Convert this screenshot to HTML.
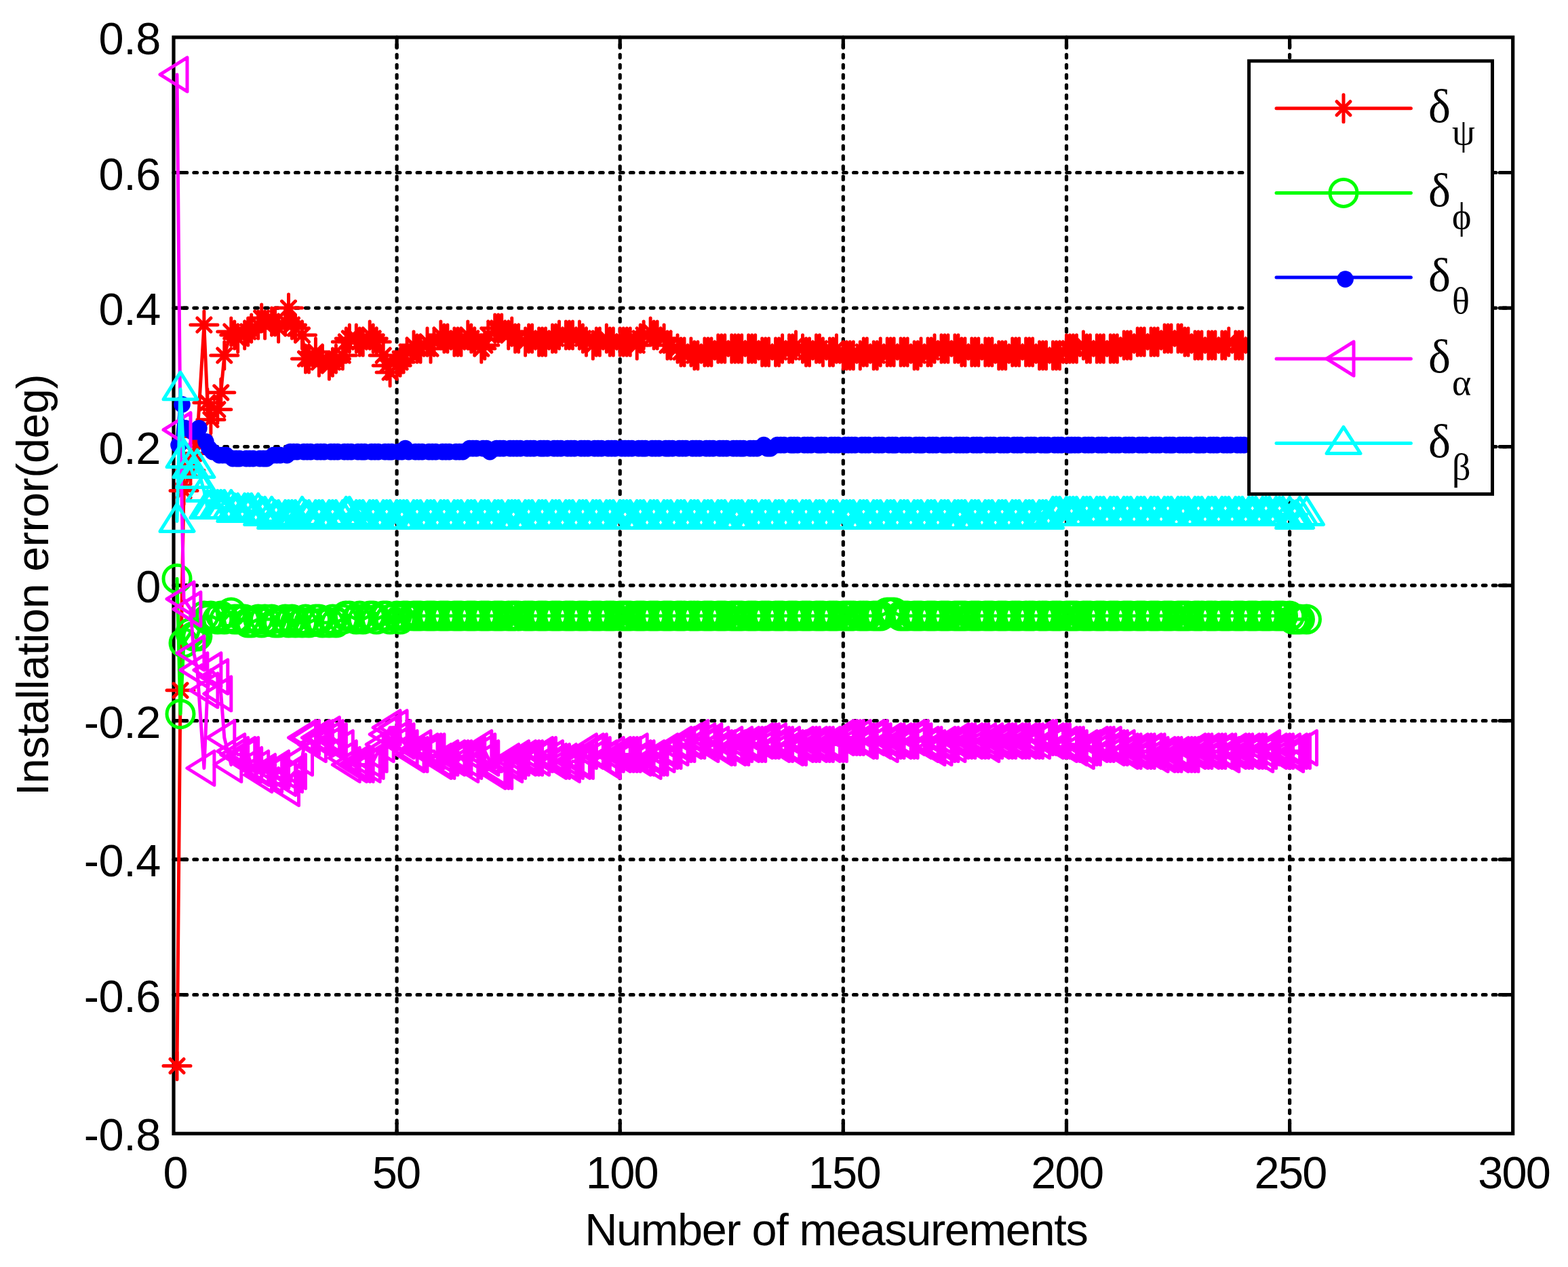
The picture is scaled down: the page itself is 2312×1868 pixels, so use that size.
<!DOCTYPE html>
<html lang="en">
<head>
<meta charset="utf-8">
<title>Installation error vs number of measurements</title>
<style>
html,body{margin:0;padding:0;background:#fff;}
body{width:2312px;height:1868px;overflow:hidden;}
svg{display:block;}
text{font-family:"Liberation Sans",sans-serif;fill:#000;}
.tick{font-size:66.67px;}
.xt{letter-spacing:-1.7px;}
.yt{letter-spacing:-0.4px;}
.lab{font-size:66.67px;}
.leg{font-family:"Liberation Serif",serif;font-size:70px;}
.sub{font-family:"Liberation Serif",serif;font-size:54px;}
.grid line{stroke:#000;stroke-width:5.2;stroke-dasharray:4.6 10.364;stroke-linecap:round;}
.frame{fill:none;stroke:#000;stroke-width:5.2;stroke-linejoin:miter;}
.tk line{stroke:#000;stroke-width:5.2;stroke-linecap:round;}
.s{fill:none;stroke-width:6;stroke-linejoin:round;stroke-linecap:round;}
</style>
</head>
<body>
<svg width="2312" height="1868" viewBox="0 0 2312 1868">
<rect x="0" y="0" width="2312" height="1868" fill="#fff"/>

<g class="grid">
<line x1="585.1" y1="1671.3" x2="585.1" y2="55.0"/>
<line x1="914.2" y1="1671.3" x2="914.2" y2="55.0"/>
<line x1="1243.3" y1="1671.3" x2="1243.3" y2="55.0"/>
<line x1="1572.5" y1="1671.3" x2="1572.5" y2="55.0"/>
<line x1="1901.6" y1="1671.3" x2="1901.6" y2="55.0"/>
<line x1="256.0" y1="1466.7" x2="2230.7" y2="1466.7"/>
<line x1="256.0" y1="1267.2" x2="2230.7" y2="1267.2"/>
<line x1="256.0" y1="1062.7" x2="2230.7" y2="1062.7"/>
<line x1="256.0" y1="863.1" x2="2230.7" y2="863.1"/>
<line x1="256.0" y1="658.6" x2="2230.7" y2="658.6"/>
<line x1="256.0" y1="454.1" x2="2230.7" y2="454.1"/>
<line x1="256.0" y1="254.5" x2="2230.7" y2="254.5"/>
</g>
<g class="tk">
<line x1="585.1" y1="1670.3" x2="585.1" y2="1656.3"/>
<line x1="585.1" y1="56.0" x2="585.1" y2="70.0"/>
<line x1="914.2" y1="1670.3" x2="914.2" y2="1656.3"/>
<line x1="914.2" y1="56.0" x2="914.2" y2="70.0"/>
<line x1="1243.3" y1="1670.3" x2="1243.3" y2="1656.3"/>
<line x1="1243.3" y1="56.0" x2="1243.3" y2="70.0"/>
<line x1="1572.5" y1="1670.3" x2="1572.5" y2="1656.3"/>
<line x1="1572.5" y1="56.0" x2="1572.5" y2="70.0"/>
<line x1="1901.6" y1="1670.3" x2="1901.6" y2="1656.3"/>
<line x1="1901.6" y1="56.0" x2="1901.6" y2="70.0"/>
<line x1="257.0" y1="1466.7" x2="275.5" y2="1466.7"/>
<line x1="2229.7" y1="1466.7" x2="2211.2" y2="1466.7"/>
<line x1="257.0" y1="1267.2" x2="275.5" y2="1267.2"/>
<line x1="2229.7" y1="1267.2" x2="2211.2" y2="1267.2"/>
<line x1="257.0" y1="1062.7" x2="275.5" y2="1062.7"/>
<line x1="2229.7" y1="1062.7" x2="2211.2" y2="1062.7"/>
<line x1="257.0" y1="863.1" x2="275.5" y2="863.1"/>
<line x1="2229.7" y1="863.1" x2="2211.2" y2="863.1"/>
<line x1="257.0" y1="658.6" x2="275.5" y2="658.6"/>
<line x1="2229.7" y1="658.6" x2="2211.2" y2="658.6"/>
<line x1="257.0" y1="454.1" x2="275.5" y2="454.1"/>
<line x1="2229.7" y1="454.1" x2="2211.2" y2="454.1"/>
<line x1="257.0" y1="254.5" x2="275.5" y2="254.5"/>
<line x1="2229.7" y1="254.5" x2="2211.2" y2="254.5"/>
</g>
<rect class="frame" x="256.0" y="55.0" width="1974.6936" height="1616.2740000000001"/>
<g class="tick">
<text x="258.2" y="1752" class="xt" text-anchor="middle">0</text>
<text x="584.1" y="1752" class="xt" text-anchor="middle">50</text>
<text x="916.9" y="1752" class="xt" text-anchor="middle">100</text>
<text x="1244.8" y="1752" class="xt" text-anchor="middle">150</text>
<text x="1573.3" y="1752" class="xt" text-anchor="middle">200</text>
<text x="1902.6" y="1752" class="xt" text-anchor="middle">250</text>
<text x="2232.2" y="1752" class="xt" text-anchor="middle">300</text>
<text x="237" y="80.0" class="yt" text-anchor="end">0.8</text>
<text x="237" y="279.5" class="yt" text-anchor="end">0.6</text>
<text x="237" y="479.1" class="yt" text-anchor="end">0.4</text>
<text x="237" y="683.6" class="yt" text-anchor="end">0.2</text>
<text x="237" y="888.1" class="yt" text-anchor="end">0</text>
<text x="237" y="1087.7" class="yt" text-anchor="end">-0.2</text>
<text x="237" y="1292.2" class="yt" text-anchor="end">-0.4</text>
<text x="237" y="1491.7" class="yt" text-anchor="end">-0.6</text>
<text x="237" y="1696.3" class="yt" text-anchor="end">-0.8</text>
</g>
<text class="lab" x="1233.5" y="1836" text-anchor="middle" textLength="742.6" lengthAdjust="spacing">Number of measurements</text>
<text class="lab" transform="translate(70.5 862.2) rotate(-90)" text-anchor="middle" textLength="622" lengthAdjust="spacing">Installation error(deg)</text>
<g fill="none" stroke-width="5" stroke-linecap="round" stroke-linejoin="round">
<g stroke="#f00">
<path d="M261 1571.5 L266 1017.8 L271 723.5 L280.9 693.5 L285.9 668.6 L290.9 643.6 L300.9 479 L305.9 593.8 L310.9 618.7 L320.8 603.7 L325.8 578.8 L330.8 523.9 L340.8 489 L345.8 494 L350.7 499 L360.7 494 L365.7 489 L370.7 484 L380.7 479 L385.7 469 L390.6 479 L400.6 474 L405.6 474 L410.6 484 L420.6 474 L425.5 454.1 L430.5 479 L435.5 484 L445.5 494 L450.5 528.9 L455.5 528.9 L465.4 518.9 L470.4 533.9 L475.4 528.9 L485.4 538.9 L490.4 533.9 L495.4 528.9 L505.3 523.9 L510.3 504 L515.3 499 L525.3 499 L530.3 504 L535.2 504 L545.2 494 L550.2 499 L555.2 504 L565.2 523.9 L570.2 538.9 L575.1 548.9 L585.1 538.9 L590.1 533.9 L595.1 528.9 L600.1 518.9 L610 509 L615 513.9 L620 513.9 L630 504 L635 513.9 L640 504 L649.9 494 L654.9 499 L659.9 499 L669.9 504 L674.9 504 L679.9 504 L689.8 494 L694.8 499 L699.8 504 L709.8 513.9 L714.8 509 L719.8 494 L729.7 484 L734.7 484 L739.7 484 L749.7 494 L754.7 489 L759.6 499 L764.6 499 L774.6 504 L779.6 499 L784.6 499 L794.6 504 L799.5 504 L804.5 504 L814.5 499 L819.5 499 L824.5 494 L834.4 494 L839.4 494 L844.4 494 L854.4 494 L859.4 499 L864.4 504 L874.3 509 L879.3 504 L884.3 504 L894.3 499 L899.3 504 L904.3 504 L914.2 504 L919.2 504 L924.2 504 L929.2 504 L939.2 509 L944.2 499 L949.1 494 L959.1 489 L964.1 494 L969.1 494 L979.1 499 L984 509 L989 509 L999 513.9 L1004 518.9 L1009 518.9 L1018.9 518.9 L1023.9 523.9 L1028.9 523.9 L1038.9 518.9 L1043.9 518.9 L1048.9 518.9 L1058.8 513.9 L1063.8 513.9 L1068.8 513.9 L1078.8 513.9 L1083.8 513.9 L1088.8 513.9 L1093.7 513.9 L1103.7 513.9 L1108.7 513.9 L1113.7 513.9 L1123.7 518.9 L1128.7 518.9 L1133.6 518.9 L1143.6 518.9 L1148.6 518.9 L1153.6 513.9 L1163.6 513.9 L1168.5 513.9 L1173.5 509 L1183.5 513.9 L1188.5 518.9 L1193.5 518.9 L1203.5 513.9 L1208.4 513.9 L1213.4 518.9 L1223.4 518.9 L1228.4 518.9 L1233.4 513.9 L1243.3 523.9 L1248.3 523.9 L1253.3 523.9 L1258.3 523.9 L1268.3 523.9 L1273.3 518.9 L1278.3 518.9 L1288.2 523.9 L1293.2 523.9 L1298.2 518.9 L1308.2 518.9 L1313.2 518.9 L1318.1 518.9 L1328.1 518.9 L1333.1 518.9 L1338.1 518.9 L1348.1 523.9 L1353.1 523.9 L1358 518.9 L1368 518.9 L1373 518.9 L1378 513.9 L1388 513.9 L1392.9 513.9 L1397.9 513.9 L1407.9 513.9 L1412.9 513.9 L1417.9 518.9 L1422.9 518.9 L1432.8 518.9 L1437.8 518.9 L1442.8 518.9 L1452.8 518.9 L1457.8 518.9 L1462.8 518.9 L1472.7 523.9 L1477.7 523.9 L1482.7 523.9 L1492.7 518.9 L1497.7 518.9 L1502.7 518.9 L1512.6 518.9 L1517.6 518.9 L1522.6 518.9 L1532.6 523.9 L1537.6 523.9 L1542.5 523.9 L1552.5 523.9 L1557.5 523.9 L1562.5 523.9 L1572.5 513.9 L1577.4 513.9 L1582.4 513.9 L1587.4 513.9 L1597.4 509 L1602.4 513.9 L1607.4 513.9 L1617.3 513.9 L1622.3 513.9 L1627.3 513.9 L1637.3 513.9 L1642.3 513.9 L1647.3 513.9 L1657.2 509 L1662.2 509 L1667.2 509 L1677.2 504 L1682.2 504 L1687.2 504 L1697.1 504 L1702.1 504 L1707.1 504 L1717.1 499 L1722.1 499 L1727 499 L1737 499 L1742 499 L1747 504 L1752 504 L1762 509 L1766.9 509 L1771.9 509 L1781.9 509 L1786.9 509 L1791.9 509 L1801.8 509 L1806.8 509 L1811.8 504 L1821.8 509 L1826.8 509 L1831.8 509 L1841.7 509 L1846.7 509 L1851.7 509 L1861.7 509 L1866.7 509 L1871.7 509 L1881.6 509 L1886.6 509 L1891.6 509 L1901.6 509 L1906.6 509 L1911.6 509 L1916.5 509 L1926.5 509"/>
<path d="M241 1571.5h40M261 1551.5v40M251 1561.5l20 20M251 1581.5l20 -20M246 1017.8h40M266 997.8v40M256 1007.8l20 20M256 1027.8l20 -20M251 723.5h40M271 703.5v40M261 713.5l20 20M261 733.5l20 -20M260.9 693.5h40M280.9 673.5v40M270.9 683.5l20 20M270.9 703.5l20 -20M265.9 668.6h40M285.9 648.6v40M275.9 658.6l20 20M275.9 678.6l20 -20M270.9 643.6h40M290.9 623.6v40M280.9 633.6l20 20M280.9 653.6l20 -20M280.9 479h40M300.9 459v40M290.9 469l20 20M290.9 489l20 -20M285.9 593.8h40M305.9 573.8v40M295.9 583.8l20 20M295.9 603.8l20 -20M290.9 618.7h40M310.9 598.7v40M300.9 608.7l20 20M300.9 628.7l20 -20M300.8 603.7h40M320.8 583.7v40M310.8 593.7l20 20M310.8 613.7l20 -20M305.8 578.8h40M325.8 558.8v40M315.8 568.8l20 20M315.8 588.8l20 -20M310.8 523.9h40M330.8 503.9v40M320.8 513.9l20 20M320.8 533.9l20 -20M320.8 489h40M340.8 469v40M330.8 479l20 20M330.8 499l20 -20M325.8 494h40M345.8 474v40M335.8 484l20 20M335.8 504l20 -20M330.7 499h40M350.7 479v40M340.7 489l20 20M340.7 509l20 -20M340.7 494h40M360.7 474v40M350.7 484l20 20M350.7 504l20 -20M345.7 489h40M365.7 469v40M355.7 479l20 20M355.7 499l20 -20M350.7 484h40M370.7 464v40M360.7 474l20 20M360.7 494l20 -20M360.7 479h40M380.7 459v40M370.7 469l20 20M370.7 489l20 -20M365.7 469h40M385.7 449v40M375.7 459l20 20M375.7 479l20 -20M370.6 479h40M390.6 459v40M380.6 469l20 20M380.6 489l20 -20M380.6 474h40M400.6 454v40M390.6 464l20 20M390.6 484l20 -20M385.6 474h40M405.6 454v40M395.6 464l20 20M395.6 484l20 -20M390.6 484h40M410.6 464v40M400.6 474l20 20M400.6 494l20 -20M400.6 474h40M420.6 454v40M410.6 464l20 20M410.6 484l20 -20M405.5 454.1h40M425.5 434.1v40M415.5 444.1l20 20M415.5 464.1l20 -20M410.5 479h40M430.5 459v40M420.5 469l20 20M420.5 489l20 -20M415.5 484h40M435.5 464v40M425.5 474l20 20M425.5 494l20 -20M425.5 494h40M445.5 474v40M435.5 484l20 20M435.5 504l20 -20M430.5 528.9h40M450.5 508.9v40M440.5 518.9l20 20M440.5 538.9l20 -20M435.5 528.9h40M455.5 508.9v40M445.5 518.9l20 20M445.5 538.9l20 -20M445.4 518.9h40M465.4 498.9v40M455.4 508.9l20 20M455.4 528.9l20 -20M450.4 533.9h40M470.4 513.9v40M460.4 523.9l20 20M460.4 543.9l20 -20M455.4 528.9h40M475.4 508.9v40M465.4 518.9l20 20M465.4 538.9l20 -20M465.4 538.9h40M485.4 518.9v40M475.4 528.9l20 20M475.4 548.9l20 -20M470.4 533.9h40M490.4 513.9v40M480.4 523.9l20 20M480.4 543.9l20 -20M475.4 528.9h40M495.4 508.9v40M485.4 518.9l20 20M485.4 538.9l20 -20M485.3 523.9h40M505.3 503.9v40M495.3 513.9l20 20M495.3 533.9l20 -20M490.3 504h40M510.3 484v40M500.3 494l20 20M500.3 514l20 -20M495.3 499h40M515.3 479v40M505.3 489l20 20M505.3 509l20 -20M505.3 499h40M525.3 479v40M515.3 489l20 20M515.3 509l20 -20M510.3 504h40M530.3 484v40M520.3 494l20 20M520.3 514l20 -20M515.2 504h40M535.2 484v40M525.2 494l20 20M525.2 514l20 -20M525.2 494h40M545.2 474v40M535.2 484l20 20M535.2 504l20 -20M530.2 499h40M550.2 479v40M540.2 489l20 20M540.2 509l20 -20M535.2 504h40M555.2 484v40M545.2 494l20 20M545.2 514l20 -20M545.2 523.9h40M565.2 503.9v40M555.2 513.9l20 20M555.2 533.9l20 -20M550.2 538.9h40M570.2 518.9v40M560.2 528.9l20 20M560.2 548.9l20 -20M555.1 548.9h40M575.1 528.9v40M565.1 538.9l20 20M565.1 558.9l20 -20M565.1 538.9h40M585.1 518.9v40M575.1 528.9l20 20M575.1 548.9l20 -20M570.1 533.9h40M590.1 513.9v40M580.1 523.9l20 20M580.1 543.9l20 -20M575.1 528.9h40M595.1 508.9v40M585.1 518.9l20 20M585.1 538.9l20 -20M580.1 518.9h40M600.1 498.9v40M590.1 508.9l20 20M590.1 528.9l20 -20M590 509h40M610 489v40M600 499l20 20M600 519l20 -20M595 513.9h40M615 493.9v40M605 503.9l20 20M605 523.9l20 -20M600 513.9h40M620 493.9v40M610 503.9l20 20M610 523.9l20 -20M610 504h40M630 484v40M620 494l20 20M620 514l20 -20M615 513.9h40M635 493.9v40M625 503.9l20 20M625 523.9l20 -20M620 504h40M640 484v40M630 494l20 20M630 514l20 -20M629.9 494h40M649.9 474v40M639.9 484l20 20M639.9 504l20 -20M634.9 499h40M654.9 479v40M644.9 489l20 20M644.9 509l20 -20M639.9 499h40M659.9 479v40M649.9 489l20 20M649.9 509l20 -20M649.9 504h40M669.9 484v40M659.9 494l20 20M659.9 514l20 -20M654.9 504h40M674.9 484v40M664.9 494l20 20M664.9 514l20 -20M659.9 504h40M679.9 484v40M669.9 494l20 20M669.9 514l20 -20M669.8 494h40M689.8 474v40M679.8 484l20 20M679.8 504l20 -20M674.8 499h40M694.8 479v40M684.8 489l20 20M684.8 509l20 -20M679.8 504h40M699.8 484v40M689.8 494l20 20M689.8 514l20 -20M689.8 513.9h40M709.8 493.9v40M699.8 503.9l20 20M699.8 523.9l20 -20M694.8 509h40M714.8 489v40M704.8 499l20 20M704.8 519l20 -20M699.8 494h40M719.8 474v40M709.8 484l20 20M709.8 504l20 -20M709.7 484h40M729.7 464v40M719.7 474l20 20M719.7 494l20 -20M714.7 484h40M734.7 464v40M724.7 474l20 20M724.7 494l20 -20M719.7 484h40M739.7 464v40M729.7 474l20 20M729.7 494l20 -20M729.7 494h40M749.7 474v40M739.7 484l20 20M739.7 504l20 -20M734.7 489h40M754.7 469v40M744.7 479l20 20M744.7 499l20 -20M739.6 499h40M759.6 479v40M749.6 489l20 20M749.6 509l20 -20M744.6 499h40M764.6 479v40M754.6 489l20 20M754.6 509l20 -20M754.6 504h40M774.6 484v40M764.6 494l20 20M764.6 514l20 -20M759.6 499h40M779.6 479v40M769.6 489l20 20M769.6 509l20 -20M764.6 499h40M784.6 479v40M774.6 489l20 20M774.6 509l20 -20M774.6 504h40M794.6 484v40M784.6 494l20 20M784.6 514l20 -20M779.5 504h40M799.5 484v40M789.5 494l20 20M789.5 514l20 -20M784.5 504h40M804.5 484v40M794.5 494l20 20M794.5 514l20 -20M794.5 499h40M814.5 479v40M804.5 489l20 20M804.5 509l20 -20M799.5 499h40M819.5 479v40M809.5 489l20 20M809.5 509l20 -20M804.5 494h40M824.5 474v40M814.5 484l20 20M814.5 504l20 -20M814.4 494h40M834.4 474v40M824.4 484l20 20M824.4 504l20 -20M819.4 494h40M839.4 474v40M829.4 484l20 20M829.4 504l20 -20M824.4 494h40M844.4 474v40M834.4 484l20 20M834.4 504l20 -20M834.4 494h40M854.4 474v40M844.4 484l20 20M844.4 504l20 -20M839.4 499h40M859.4 479v40M849.4 489l20 20M849.4 509l20 -20M844.4 504h40M864.4 484v40M854.4 494l20 20M854.4 514l20 -20M854.3 509h40M874.3 489v40M864.3 499l20 20M864.3 519l20 -20M859.3 504h40M879.3 484v40M869.3 494l20 20M869.3 514l20 -20M864.3 504h40M884.3 484v40M874.3 494l20 20M874.3 514l20 -20M874.3 499h40M894.3 479v40M884.3 489l20 20M884.3 509l20 -20M879.3 504h40M899.3 484v40M889.3 494l20 20M889.3 514l20 -20M884.3 504h40M904.3 484v40M894.3 494l20 20M894.3 514l20 -20M894.2 504h40M914.2 484v40M904.2 494l20 20M904.2 514l20 -20M899.2 504h40M919.2 484v40M909.2 494l20 20M909.2 514l20 -20M904.2 504h40M924.2 484v40M914.2 494l20 20M914.2 514l20 -20M909.2 504h40M929.2 484v40M919.2 494l20 20M919.2 514l20 -20M919.2 509h40M939.2 489v40M929.2 499l20 20M929.2 519l20 -20M924.2 499h40M944.2 479v40M934.2 489l20 20M934.2 509l20 -20M929.1 494h40M949.1 474v40M939.1 484l20 20M939.1 504l20 -20M939.1 489h40M959.1 469v40M949.1 479l20 20M949.1 499l20 -20M944.1 494h40M964.1 474v40M954.1 484l20 20M954.1 504l20 -20M949.1 494h40M969.1 474v40M959.1 484l20 20M959.1 504l20 -20M959.1 499h40M979.1 479v40M969.1 489l20 20M969.1 509l20 -20M964 509h40M984 489v40M974 499l20 20M974 519l20 -20M969 509h40M989 489v40M979 499l20 20M979 519l20 -20M979 513.9h40M999 493.9v40M989 503.9l20 20M989 523.9l20 -20M984 518.9h40M1004 498.9v40M994 508.9l20 20M994 528.9l20 -20M989 518.9h40M1009 498.9v40M999 508.9l20 20M999 528.9l20 -20M998.9 518.9h40M1018.9 498.9v40M1008.9 508.9l20 20M1008.9 528.9l20 -20M1003.9 523.9h40M1023.9 503.9v40M1013.9 513.9l20 20M1013.9 533.9l20 -20M1008.9 523.9h40M1028.9 503.9v40M1018.9 513.9l20 20M1018.9 533.9l20 -20M1018.9 518.9h40M1038.9 498.9v40M1028.9 508.9l20 20M1028.9 528.9l20 -20M1023.9 518.9h40M1043.9 498.9v40M1033.9 508.9l20 20M1033.9 528.9l20 -20M1028.9 518.9h40M1048.9 498.9v40M1038.9 508.9l20 20M1038.9 528.9l20 -20M1038.8 513.9h40M1058.8 493.9v40M1048.8 503.9l20 20M1048.8 523.9l20 -20M1043.8 513.9h40M1063.8 493.9v40M1053.8 503.9l20 20M1053.8 523.9l20 -20M1048.8 513.9h40M1068.8 493.9v40M1058.8 503.9l20 20M1058.8 523.9l20 -20M1058.8 513.9h40M1078.8 493.9v40M1068.8 503.9l20 20M1068.8 523.9l20 -20M1063.8 513.9h40M1083.8 493.9v40M1073.8 503.9l20 20M1073.8 523.9l20 -20M1068.8 513.9h40M1088.8 493.9v40M1078.8 503.9l20 20M1078.8 523.9l20 -20M1073.7 513.9h40M1093.7 493.9v40M1083.7 503.9l20 20M1083.7 523.9l20 -20M1083.7 513.9h40M1103.7 493.9v40M1093.7 503.9l20 20M1093.7 523.9l20 -20M1088.7 513.9h40M1108.7 493.9v40M1098.7 503.9l20 20M1098.7 523.9l20 -20M1093.7 513.9h40M1113.7 493.9v40M1103.7 503.9l20 20M1103.7 523.9l20 -20M1103.7 518.9h40M1123.7 498.9v40M1113.7 508.9l20 20M1113.7 528.9l20 -20M1108.7 518.9h40M1128.7 498.9v40M1118.7 508.9l20 20M1118.7 528.9l20 -20M1113.6 518.9h40M1133.6 498.9v40M1123.6 508.9l20 20M1123.6 528.9l20 -20M1123.6 518.9h40M1143.6 498.9v40M1133.6 508.9l20 20M1133.6 528.9l20 -20M1128.6 518.9h40M1148.6 498.9v40M1138.6 508.9l20 20M1138.6 528.9l20 -20M1133.6 513.9h40M1153.6 493.9v40M1143.6 503.9l20 20M1143.6 523.9l20 -20M1143.6 513.9h40M1163.6 493.9v40M1153.6 503.9l20 20M1153.6 523.9l20 -20M1148.5 513.9h40M1168.5 493.9v40M1158.5 503.9l20 20M1158.5 523.9l20 -20M1153.5 509h40M1173.5 489v40M1163.5 499l20 20M1163.5 519l20 -20M1163.5 513.9h40M1183.5 493.9v40M1173.5 503.9l20 20M1173.5 523.9l20 -20M1168.5 518.9h40M1188.5 498.9v40M1178.5 508.9l20 20M1178.5 528.9l20 -20M1173.5 518.9h40M1193.5 498.9v40M1183.5 508.9l20 20M1183.5 528.9l20 -20M1183.5 513.9h40M1203.5 493.9v40M1193.5 503.9l20 20M1193.5 523.9l20 -20M1188.4 513.9h40M1208.4 493.9v40M1198.4 503.9l20 20M1198.4 523.9l20 -20M1193.4 518.9h40M1213.4 498.9v40M1203.4 508.9l20 20M1203.4 528.9l20 -20M1203.4 518.9h40M1223.4 498.9v40M1213.4 508.9l20 20M1213.4 528.9l20 -20M1208.4 518.9h40M1228.4 498.9v40M1218.4 508.9l20 20M1218.4 528.9l20 -20M1213.4 513.9h40M1233.4 493.9v40M1223.4 503.9l20 20M1223.4 523.9l20 -20M1223.3 523.9h40M1243.3 503.9v40M1233.3 513.9l20 20M1233.3 533.9l20 -20M1228.3 523.9h40M1248.3 503.9v40M1238.3 513.9l20 20M1238.3 533.9l20 -20M1233.3 523.9h40M1253.3 503.9v40M1243.3 513.9l20 20M1243.3 533.9l20 -20M1238.3 523.9h40M1258.3 503.9v40M1248.3 513.9l20 20M1248.3 533.9l20 -20M1248.3 523.9h40M1268.3 503.9v40M1258.3 513.9l20 20M1258.3 533.9l20 -20M1253.3 518.9h40M1273.3 498.9v40M1263.3 508.9l20 20M1263.3 528.9l20 -20M1258.3 518.9h40M1278.3 498.9v40M1268.3 508.9l20 20M1268.3 528.9l20 -20M1268.2 523.9h40M1288.2 503.9v40M1278.2 513.9l20 20M1278.2 533.9l20 -20M1273.2 523.9h40M1293.2 503.9v40M1283.2 513.9l20 20M1283.2 533.9l20 -20M1278.2 518.9h40M1298.2 498.9v40M1288.2 508.9l20 20M1288.2 528.9l20 -20M1288.2 518.9h40M1308.2 498.9v40M1298.2 508.9l20 20M1298.2 528.9l20 -20M1293.2 518.9h40M1313.2 498.9v40M1303.2 508.9l20 20M1303.2 528.9l20 -20M1298.1 518.9h40M1318.1 498.9v40M1308.1 508.9l20 20M1308.1 528.9l20 -20M1308.1 518.9h40M1328.1 498.9v40M1318.1 508.9l20 20M1318.1 528.9l20 -20M1313.1 518.9h40M1333.1 498.9v40M1323.1 508.9l20 20M1323.1 528.9l20 -20M1318.1 518.9h40M1338.1 498.9v40M1328.1 508.9l20 20M1328.1 528.9l20 -20M1328.1 523.9h40M1348.1 503.9v40M1338.1 513.9l20 20M1338.1 533.9l20 -20M1333.1 523.9h40M1353.1 503.9v40M1343.1 513.9l20 20M1343.1 533.9l20 -20M1338 518.9h40M1358 498.9v40M1348 508.9l20 20M1348 528.9l20 -20M1348 518.9h40M1368 498.9v40M1358 508.9l20 20M1358 528.9l20 -20M1353 518.9h40M1373 498.9v40M1363 508.9l20 20M1363 528.9l20 -20M1358 513.9h40M1378 493.9v40M1368 503.9l20 20M1368 523.9l20 -20M1368 513.9h40M1388 493.9v40M1378 503.9l20 20M1378 523.9l20 -20M1372.9 513.9h40M1392.9 493.9v40M1382.9 503.9l20 20M1382.9 523.9l20 -20M1377.9 513.9h40M1397.9 493.9v40M1387.9 503.9l20 20M1387.9 523.9l20 -20M1387.9 513.9h40M1407.9 493.9v40M1397.9 503.9l20 20M1397.9 523.9l20 -20M1392.9 513.9h40M1412.9 493.9v40M1402.9 503.9l20 20M1402.9 523.9l20 -20M1397.9 518.9h40M1417.9 498.9v40M1407.9 508.9l20 20M1407.9 528.9l20 -20M1402.9 518.9h40M1422.9 498.9v40M1412.9 508.9l20 20M1412.9 528.9l20 -20M1412.8 518.9h40M1432.8 498.9v40M1422.8 508.9l20 20M1422.8 528.9l20 -20M1417.8 518.9h40M1437.8 498.9v40M1427.8 508.9l20 20M1427.8 528.9l20 -20M1422.8 518.9h40M1442.8 498.9v40M1432.8 508.9l20 20M1432.8 528.9l20 -20M1432.8 518.9h40M1452.8 498.9v40M1442.8 508.9l20 20M1442.8 528.9l20 -20M1437.8 518.9h40M1457.8 498.9v40M1447.8 508.9l20 20M1447.8 528.9l20 -20M1442.8 518.9h40M1462.8 498.9v40M1452.8 508.9l20 20M1452.8 528.9l20 -20M1452.7 523.9h40M1472.7 503.9v40M1462.7 513.9l20 20M1462.7 533.9l20 -20M1457.7 523.9h40M1477.7 503.9v40M1467.7 513.9l20 20M1467.7 533.9l20 -20M1462.7 523.9h40M1482.7 503.9v40M1472.7 513.9l20 20M1472.7 533.9l20 -20M1472.7 518.9h40M1492.7 498.9v40M1482.7 508.9l20 20M1482.7 528.9l20 -20M1477.7 518.9h40M1497.7 498.9v40M1487.7 508.9l20 20M1487.7 528.9l20 -20M1482.7 518.9h40M1502.7 498.9v40M1492.7 508.9l20 20M1492.7 528.9l20 -20M1492.6 518.9h40M1512.6 498.9v40M1502.6 508.9l20 20M1502.6 528.9l20 -20M1497.6 518.9h40M1517.6 498.9v40M1507.6 508.9l20 20M1507.6 528.9l20 -20M1502.6 518.9h40M1522.6 498.9v40M1512.6 508.9l20 20M1512.6 528.9l20 -20M1512.6 523.9h40M1532.6 503.9v40M1522.6 513.9l20 20M1522.6 533.9l20 -20M1517.6 523.9h40M1537.6 503.9v40M1527.6 513.9l20 20M1527.6 533.9l20 -20M1522.5 523.9h40M1542.5 503.9v40M1532.5 513.9l20 20M1532.5 533.9l20 -20M1532.5 523.9h40M1552.5 503.9v40M1542.5 513.9l20 20M1542.5 533.9l20 -20M1537.5 523.9h40M1557.5 503.9v40M1547.5 513.9l20 20M1547.5 533.9l20 -20M1542.5 523.9h40M1562.5 503.9v40M1552.5 513.9l20 20M1552.5 533.9l20 -20M1552.5 513.9h40M1572.5 493.9v40M1562.5 503.9l20 20M1562.5 523.9l20 -20M1557.4 513.9h40M1577.4 493.9v40M1567.4 503.9l20 20M1567.4 523.9l20 -20M1562.4 513.9h40M1582.4 493.9v40M1572.4 503.9l20 20M1572.4 523.9l20 -20M1567.4 513.9h40M1587.4 493.9v40M1577.4 503.9l20 20M1577.4 523.9l20 -20M1577.4 509h40M1597.4 489v40M1587.4 499l20 20M1587.4 519l20 -20M1582.4 513.9h40M1602.4 493.9v40M1592.4 503.9l20 20M1592.4 523.9l20 -20M1587.4 513.9h40M1607.4 493.9v40M1597.4 503.9l20 20M1597.4 523.9l20 -20M1597.3 513.9h40M1617.3 493.9v40M1607.3 503.9l20 20M1607.3 523.9l20 -20M1602.3 513.9h40M1622.3 493.9v40M1612.3 503.9l20 20M1612.3 523.9l20 -20M1607.3 513.9h40M1627.3 493.9v40M1617.3 503.9l20 20M1617.3 523.9l20 -20M1617.3 513.9h40M1637.3 493.9v40M1627.3 503.9l20 20M1627.3 523.9l20 -20M1622.3 513.9h40M1642.3 493.9v40M1632.3 503.9l20 20M1632.3 523.9l20 -20M1627.3 513.9h40M1647.3 493.9v40M1637.3 503.9l20 20M1637.3 523.9l20 -20M1637.2 509h40M1657.2 489v40M1647.2 499l20 20M1647.2 519l20 -20M1642.2 509h40M1662.2 489v40M1652.2 499l20 20M1652.2 519l20 -20M1647.2 509h40M1667.2 489v40M1657.2 499l20 20M1657.2 519l20 -20M1657.2 504h40M1677.2 484v40M1667.2 494l20 20M1667.2 514l20 -20M1662.2 504h40M1682.2 484v40M1672.2 494l20 20M1672.2 514l20 -20M1667.2 504h40M1687.2 484v40M1677.2 494l20 20M1677.2 514l20 -20M1677.1 504h40M1697.1 484v40M1687.1 494l20 20M1687.1 514l20 -20M1682.1 504h40M1702.1 484v40M1692.1 494l20 20M1692.1 514l20 -20M1687.1 504h40M1707.1 484v40M1697.1 494l20 20M1697.1 514l20 -20M1697.1 499h40M1717.1 479v40M1707.1 489l20 20M1707.1 509l20 -20M1702.1 499h40M1722.1 479v40M1712.1 489l20 20M1712.1 509l20 -20M1707 499h40M1727 479v40M1717 489l20 20M1717 509l20 -20M1717 499h40M1737 479v40M1727 489l20 20M1727 509l20 -20M1722 499h40M1742 479v40M1732 489l20 20M1732 509l20 -20M1727 504h40M1747 484v40M1737 494l20 20M1737 514l20 -20M1732 504h40M1752 484v40M1742 494l20 20M1742 514l20 -20M1742 509h40M1762 489v40M1752 499l20 20M1752 519l20 -20M1746.9 509h40M1766.9 489v40M1756.9 499l20 20M1756.9 519l20 -20M1751.9 509h40M1771.9 489v40M1761.9 499l20 20M1761.9 519l20 -20M1761.9 509h40M1781.9 489v40M1771.9 499l20 20M1771.9 519l20 -20M1766.9 509h40M1786.9 489v40M1776.9 499l20 20M1776.9 519l20 -20M1771.9 509h40M1791.9 489v40M1781.9 499l20 20M1781.9 519l20 -20M1781.8 509h40M1801.8 489v40M1791.8 499l20 20M1791.8 519l20 -20M1786.8 509h40M1806.8 489v40M1796.8 499l20 20M1796.8 519l20 -20M1791.8 504h40M1811.8 484v40M1801.8 494l20 20M1801.8 514l20 -20M1801.8 509h40M1821.8 489v40M1811.8 499l20 20M1811.8 519l20 -20M1806.8 509h40M1826.8 489v40M1816.8 499l20 20M1816.8 519l20 -20M1811.8 509h40M1831.8 489v40M1821.8 499l20 20M1821.8 519l20 -20M1821.7 509h40M1841.7 489v40M1831.7 499l20 20M1831.7 519l20 -20M1826.7 509h40M1846.7 489v40M1836.7 499l20 20M1836.7 519l20 -20M1831.7 509h40M1851.7 489v40M1841.7 499l20 20M1841.7 519l20 -20M1841.7 509h40M1861.7 489v40M1851.7 499l20 20M1851.7 519l20 -20M1846.7 509h40M1866.7 489v40M1856.7 499l20 20M1856.7 519l20 -20M1851.7 509h40M1871.7 489v40M1861.7 499l20 20M1861.7 519l20 -20M1861.6 509h40M1881.6 489v40M1871.6 499l20 20M1871.6 519l20 -20M1866.6 509h40M1886.6 489v40M1876.6 499l20 20M1876.6 519l20 -20M1871.6 509h40M1891.6 489v40M1881.6 499l20 20M1881.6 519l20 -20M1881.6 509h40M1901.6 489v40M1891.6 499l20 20M1891.6 519l20 -20M1886.6 509h40M1906.6 489v40M1896.6 499l20 20M1896.6 519l20 -20M1891.6 509h40M1911.6 489v40M1901.6 499l20 20M1901.6 519l20 -20M1896.5 509h40M1916.5 489v40M1906.5 499l20 20M1906.5 519l20 -20M1906.5 509h40M1926.5 489v40M1916.5 499l20 20M1916.5 519l20 -20"/>
</g>
<g stroke="#0f0">
<path d="M261 853.2 L266 1052.7 L271 947.9 L280.9 933 L285.9 938 L290.9 938 L300.9 908 L305.9 913 L310.9 908 L320.8 913 L325.8 908 L330.8 913 L340.8 903 L345.8 913 L350.7 913 L360.7 913 L365.7 918 L370.7 918 L380.7 913 L385.7 918 L390.6 913 L400.6 913 L405.6 918 L410.6 918 L420.6 913 L425.5 918 L430.5 913 L435.5 918 L445.5 918 L450.5 913 L455.5 918 L465.4 913 L470.4 913 L475.4 918 L485.4 918 L490.4 913 L495.4 918 L505.3 913 L510.3 908 L515.3 908 L525.3 913 L530.3 908 L535.2 913 L545.2 908 L550.2 908 L555.2 913 L565.2 908 L570.2 908 L575.1 913 L585.1 908 L590.1 913 L595.1 908 L600.1 908 L610 908 L615 908 L620 908 L630 908 L635 908 L640 908 L649.9 908 L654.9 908 L659.9 908 L669.9 908 L674.9 908 L679.9 908 L689.8 908 L694.8 908 L699.8 908 L709.8 908 L714.8 908 L719.8 908 L729.7 908 L734.7 908 L739.7 908 L749.7 908 L754.7 908 L759.6 908 L764.6 908 L774.6 908 L779.6 908 L784.6 908 L794.6 908 L799.5 908 L804.5 908 L814.5 908 L819.5 908 L824.5 908 L834.4 908 L839.4 908 L844.4 908 L854.4 908 L859.4 908 L864.4 908 L874.3 908 L879.3 908 L884.3 908 L894.3 908 L899.3 908 L904.3 908 L914.2 908 L919.2 908 L924.2 908 L929.2 908 L939.2 908 L944.2 908 L949.1 908 L959.1 908 L964.1 908 L969.1 908 L979.1 908 L984 908 L989 908 L999 908 L1004 908 L1009 908 L1018.9 908 L1023.9 908 L1028.9 908 L1038.9 908 L1043.9 908 L1048.9 908 L1058.8 908 L1063.8 908 L1068.8 908 L1078.8 908 L1083.8 908 L1088.8 908 L1093.7 908 L1103.7 908 L1108.7 908 L1113.7 908 L1123.7 908 L1128.7 908 L1133.6 908 L1143.6 908 L1148.6 908 L1153.6 908 L1163.6 908 L1168.5 908 L1173.5 908 L1183.5 908 L1188.5 908 L1193.5 908 L1203.5 908 L1208.4 908 L1213.4 908 L1223.4 908 L1228.4 908 L1233.4 908 L1243.3 908 L1248.3 908 L1253.3 908 L1258.3 908 L1268.3 908 L1273.3 908 L1278.3 908 L1288.2 908 L1293.2 908 L1298.2 908 L1308.2 903 L1313.2 903 L1318.1 903 L1328.1 908 L1333.1 908 L1338.1 908 L1348.1 908 L1353.1 908 L1358 908 L1368 908 L1373 908 L1378 908 L1388 908 L1392.9 908 L1397.9 908 L1407.9 908 L1412.9 908 L1417.9 908 L1422.9 908 L1432.8 908 L1437.8 908 L1442.8 908 L1452.8 908 L1457.8 908 L1462.8 908 L1472.7 908 L1477.7 908 L1482.7 908 L1492.7 908 L1497.7 908 L1502.7 908 L1512.6 908 L1517.6 908 L1522.6 908 L1532.6 908 L1537.6 908 L1542.5 908 L1552.5 908 L1557.5 908 L1562.5 908 L1572.5 908 L1577.4 908 L1582.4 908 L1587.4 908 L1597.4 908 L1602.4 908 L1607.4 908 L1617.3 908 L1622.3 908 L1627.3 908 L1637.3 908 L1642.3 908 L1647.3 908 L1657.2 908 L1662.2 908 L1667.2 908 L1677.2 908 L1682.2 908 L1687.2 908 L1697.1 908 L1702.1 908 L1707.1 908 L1717.1 908 L1722.1 908 L1727 908 L1737 908 L1742 908 L1747 908 L1752 908 L1762 908 L1766.9 908 L1771.9 908 L1781.9 908 L1786.9 908 L1791.9 908 L1801.8 908 L1806.8 908 L1811.8 908 L1821.8 908 L1826.8 908 L1831.8 908 L1841.7 908 L1846.7 908 L1851.7 908 L1861.7 908 L1866.7 908 L1871.7 908 L1881.6 908 L1886.6 908 L1891.6 908 L1901.6 908 L1906.6 913 L1911.6 913 L1916.5 913 L1926.5 913"/>
<path d="M241 853.2a20 20 0 1 0 40 0a20 20 0 1 0 -40 0M246 1052.7a20 20 0 1 0 40 0a20 20 0 1 0 -40 0M251 947.9a20 20 0 1 0 40 0a20 20 0 1 0 -40 0M260.9 933a20 20 0 1 0 40 0a20 20 0 1 0 -40 0M265.9 938a20 20 0 1 0 40 0a20 20 0 1 0 -40 0M270.9 938a20 20 0 1 0 40 0a20 20 0 1 0 -40 0M280.9 908a20 20 0 1 0 40 0a20 20 0 1 0 -40 0M285.9 913a20 20 0 1 0 40 0a20 20 0 1 0 -40 0M290.9 908a20 20 0 1 0 40 0a20 20 0 1 0 -40 0M300.8 913a20 20 0 1 0 40 0a20 20 0 1 0 -40 0M305.8 908a20 20 0 1 0 40 0a20 20 0 1 0 -40 0M310.8 913a20 20 0 1 0 40 0a20 20 0 1 0 -40 0M320.8 903a20 20 0 1 0 40 0a20 20 0 1 0 -40 0M325.8 913a20 20 0 1 0 40 0a20 20 0 1 0 -40 0M330.7 913a20 20 0 1 0 40 0a20 20 0 1 0 -40 0M340.7 913a20 20 0 1 0 40 0a20 20 0 1 0 -40 0M345.7 918a20 20 0 1 0 40 0a20 20 0 1 0 -40 0M350.7 918a20 20 0 1 0 40 0a20 20 0 1 0 -40 0M360.7 913a20 20 0 1 0 40 0a20 20 0 1 0 -40 0M365.7 918a20 20 0 1 0 40 0a20 20 0 1 0 -40 0M370.6 913a20 20 0 1 0 40 0a20 20 0 1 0 -40 0M380.6 913a20 20 0 1 0 40 0a20 20 0 1 0 -40 0M385.6 918a20 20 0 1 0 40 0a20 20 0 1 0 -40 0M390.6 918a20 20 0 1 0 40 0a20 20 0 1 0 -40 0M400.6 913a20 20 0 1 0 40 0a20 20 0 1 0 -40 0M405.5 918a20 20 0 1 0 40 0a20 20 0 1 0 -40 0M410.5 913a20 20 0 1 0 40 0a20 20 0 1 0 -40 0M415.5 918a20 20 0 1 0 40 0a20 20 0 1 0 -40 0M425.5 918a20 20 0 1 0 40 0a20 20 0 1 0 -40 0M430.5 913a20 20 0 1 0 40 0a20 20 0 1 0 -40 0M435.5 918a20 20 0 1 0 40 0a20 20 0 1 0 -40 0M445.4 913a20 20 0 1 0 40 0a20 20 0 1 0 -40 0M450.4 913a20 20 0 1 0 40 0a20 20 0 1 0 -40 0M455.4 918a20 20 0 1 0 40 0a20 20 0 1 0 -40 0M465.4 918a20 20 0 1 0 40 0a20 20 0 1 0 -40 0M470.4 913a20 20 0 1 0 40 0a20 20 0 1 0 -40 0M475.4 918a20 20 0 1 0 40 0a20 20 0 1 0 -40 0M485.3 913a20 20 0 1 0 40 0a20 20 0 1 0 -40 0M490.3 908a20 20 0 1 0 40 0a20 20 0 1 0 -40 0M495.3 908a20 20 0 1 0 40 0a20 20 0 1 0 -40 0M505.3 913a20 20 0 1 0 40 0a20 20 0 1 0 -40 0M510.3 908a20 20 0 1 0 40 0a20 20 0 1 0 -40 0M515.2 913a20 20 0 1 0 40 0a20 20 0 1 0 -40 0M525.2 908a20 20 0 1 0 40 0a20 20 0 1 0 -40 0M530.2 908a20 20 0 1 0 40 0a20 20 0 1 0 -40 0M535.2 913a20 20 0 1 0 40 0a20 20 0 1 0 -40 0M545.2 908a20 20 0 1 0 40 0a20 20 0 1 0 -40 0M550.2 908a20 20 0 1 0 40 0a20 20 0 1 0 -40 0M555.1 913a20 20 0 1 0 40 0a20 20 0 1 0 -40 0M565.1 908a20 20 0 1 0 40 0a20 20 0 1 0 -40 0M570.1 913a20 20 0 1 0 40 0a20 20 0 1 0 -40 0M575.1 908a20 20 0 1 0 40 0a20 20 0 1 0 -40 0M580.1 908a20 20 0 1 0 40 0a20 20 0 1 0 -40 0M590 908a20 20 0 1 0 40 0a20 20 0 1 0 -40 0M595 908a20 20 0 1 0 40 0a20 20 0 1 0 -40 0M600 908a20 20 0 1 0 40 0a20 20 0 1 0 -40 0M610 908a20 20 0 1 0 40 0a20 20 0 1 0 -40 0M615 908a20 20 0 1 0 40 0a20 20 0 1 0 -40 0M620 908a20 20 0 1 0 40 0a20 20 0 1 0 -40 0M629.9 908a20 20 0 1 0 40 0a20 20 0 1 0 -40 0M634.9 908a20 20 0 1 0 40 0a20 20 0 1 0 -40 0M639.9 908a20 20 0 1 0 40 0a20 20 0 1 0 -40 0M649.9 908a20 20 0 1 0 40 0a20 20 0 1 0 -40 0M654.9 908a20 20 0 1 0 40 0a20 20 0 1 0 -40 0M659.9 908a20 20 0 1 0 40 0a20 20 0 1 0 -40 0M669.8 908a20 20 0 1 0 40 0a20 20 0 1 0 -40 0M674.8 908a20 20 0 1 0 40 0a20 20 0 1 0 -40 0M679.8 908a20 20 0 1 0 40 0a20 20 0 1 0 -40 0M689.8 908a20 20 0 1 0 40 0a20 20 0 1 0 -40 0M694.8 908a20 20 0 1 0 40 0a20 20 0 1 0 -40 0M699.8 908a20 20 0 1 0 40 0a20 20 0 1 0 -40 0M709.7 908a20 20 0 1 0 40 0a20 20 0 1 0 -40 0M714.7 908a20 20 0 1 0 40 0a20 20 0 1 0 -40 0M719.7 908a20 20 0 1 0 40 0a20 20 0 1 0 -40 0M729.7 908a20 20 0 1 0 40 0a20 20 0 1 0 -40 0M734.7 908a20 20 0 1 0 40 0a20 20 0 1 0 -40 0M739.6 908a20 20 0 1 0 40 0a20 20 0 1 0 -40 0M744.6 908a20 20 0 1 0 40 0a20 20 0 1 0 -40 0M754.6 908a20 20 0 1 0 40 0a20 20 0 1 0 -40 0M759.6 908a20 20 0 1 0 40 0a20 20 0 1 0 -40 0M764.6 908a20 20 0 1 0 40 0a20 20 0 1 0 -40 0M774.6 908a20 20 0 1 0 40 0a20 20 0 1 0 -40 0M779.5 908a20 20 0 1 0 40 0a20 20 0 1 0 -40 0M784.5 908a20 20 0 1 0 40 0a20 20 0 1 0 -40 0M794.5 908a20 20 0 1 0 40 0a20 20 0 1 0 -40 0M799.5 908a20 20 0 1 0 40 0a20 20 0 1 0 -40 0M804.5 908a20 20 0 1 0 40 0a20 20 0 1 0 -40 0M814.4 908a20 20 0 1 0 40 0a20 20 0 1 0 -40 0M819.4 908a20 20 0 1 0 40 0a20 20 0 1 0 -40 0M824.4 908a20 20 0 1 0 40 0a20 20 0 1 0 -40 0M834.4 908a20 20 0 1 0 40 0a20 20 0 1 0 -40 0M839.4 908a20 20 0 1 0 40 0a20 20 0 1 0 -40 0M844.4 908a20 20 0 1 0 40 0a20 20 0 1 0 -40 0M854.3 908a20 20 0 1 0 40 0a20 20 0 1 0 -40 0M859.3 908a20 20 0 1 0 40 0a20 20 0 1 0 -40 0M864.3 908a20 20 0 1 0 40 0a20 20 0 1 0 -40 0M874.3 908a20 20 0 1 0 40 0a20 20 0 1 0 -40 0M879.3 908a20 20 0 1 0 40 0a20 20 0 1 0 -40 0M884.3 908a20 20 0 1 0 40 0a20 20 0 1 0 -40 0M894.2 908a20 20 0 1 0 40 0a20 20 0 1 0 -40 0M899.2 908a20 20 0 1 0 40 0a20 20 0 1 0 -40 0M904.2 908a20 20 0 1 0 40 0a20 20 0 1 0 -40 0M909.2 908a20 20 0 1 0 40 0a20 20 0 1 0 -40 0M919.2 908a20 20 0 1 0 40 0a20 20 0 1 0 -40 0M924.2 908a20 20 0 1 0 40 0a20 20 0 1 0 -40 0M929.1 908a20 20 0 1 0 40 0a20 20 0 1 0 -40 0M939.1 908a20 20 0 1 0 40 0a20 20 0 1 0 -40 0M944.1 908a20 20 0 1 0 40 0a20 20 0 1 0 -40 0M949.1 908a20 20 0 1 0 40 0a20 20 0 1 0 -40 0M959.1 908a20 20 0 1 0 40 0a20 20 0 1 0 -40 0M964 908a20 20 0 1 0 40 0a20 20 0 1 0 -40 0M969 908a20 20 0 1 0 40 0a20 20 0 1 0 -40 0M979 908a20 20 0 1 0 40 0a20 20 0 1 0 -40 0M984 908a20 20 0 1 0 40 0a20 20 0 1 0 -40 0M989 908a20 20 0 1 0 40 0a20 20 0 1 0 -40 0M998.9 908a20 20 0 1 0 40 0a20 20 0 1 0 -40 0M1003.9 908a20 20 0 1 0 40 0a20 20 0 1 0 -40 0M1008.9 908a20 20 0 1 0 40 0a20 20 0 1 0 -40 0M1018.9 908a20 20 0 1 0 40 0a20 20 0 1 0 -40 0M1023.9 908a20 20 0 1 0 40 0a20 20 0 1 0 -40 0M1028.9 908a20 20 0 1 0 40 0a20 20 0 1 0 -40 0M1038.8 908a20 20 0 1 0 40 0a20 20 0 1 0 -40 0M1043.8 908a20 20 0 1 0 40 0a20 20 0 1 0 -40 0M1048.8 908a20 20 0 1 0 40 0a20 20 0 1 0 -40 0M1058.8 908a20 20 0 1 0 40 0a20 20 0 1 0 -40 0M1063.8 908a20 20 0 1 0 40 0a20 20 0 1 0 -40 0M1068.8 908a20 20 0 1 0 40 0a20 20 0 1 0 -40 0M1073.7 908a20 20 0 1 0 40 0a20 20 0 1 0 -40 0M1083.7 908a20 20 0 1 0 40 0a20 20 0 1 0 -40 0M1088.7 908a20 20 0 1 0 40 0a20 20 0 1 0 -40 0M1093.7 908a20 20 0 1 0 40 0a20 20 0 1 0 -40 0M1103.7 908a20 20 0 1 0 40 0a20 20 0 1 0 -40 0M1108.7 908a20 20 0 1 0 40 0a20 20 0 1 0 -40 0M1113.6 908a20 20 0 1 0 40 0a20 20 0 1 0 -40 0M1123.6 908a20 20 0 1 0 40 0a20 20 0 1 0 -40 0M1128.6 908a20 20 0 1 0 40 0a20 20 0 1 0 -40 0M1133.6 908a20 20 0 1 0 40 0a20 20 0 1 0 -40 0M1143.6 908a20 20 0 1 0 40 0a20 20 0 1 0 -40 0M1148.5 908a20 20 0 1 0 40 0a20 20 0 1 0 -40 0M1153.5 908a20 20 0 1 0 40 0a20 20 0 1 0 -40 0M1163.5 908a20 20 0 1 0 40 0a20 20 0 1 0 -40 0M1168.5 908a20 20 0 1 0 40 0a20 20 0 1 0 -40 0M1173.5 908a20 20 0 1 0 40 0a20 20 0 1 0 -40 0M1183.5 908a20 20 0 1 0 40 0a20 20 0 1 0 -40 0M1188.4 908a20 20 0 1 0 40 0a20 20 0 1 0 -40 0M1193.4 908a20 20 0 1 0 40 0a20 20 0 1 0 -40 0M1203.4 908a20 20 0 1 0 40 0a20 20 0 1 0 -40 0M1208.4 908a20 20 0 1 0 40 0a20 20 0 1 0 -40 0M1213.4 908a20 20 0 1 0 40 0a20 20 0 1 0 -40 0M1223.3 908a20 20 0 1 0 40 0a20 20 0 1 0 -40 0M1228.3 908a20 20 0 1 0 40 0a20 20 0 1 0 -40 0M1233.3 908a20 20 0 1 0 40 0a20 20 0 1 0 -40 0M1238.3 908a20 20 0 1 0 40 0a20 20 0 1 0 -40 0M1248.3 908a20 20 0 1 0 40 0a20 20 0 1 0 -40 0M1253.3 908a20 20 0 1 0 40 0a20 20 0 1 0 -40 0M1258.3 908a20 20 0 1 0 40 0a20 20 0 1 0 -40 0M1268.2 908a20 20 0 1 0 40 0a20 20 0 1 0 -40 0M1273.2 908a20 20 0 1 0 40 0a20 20 0 1 0 -40 0M1278.2 908a20 20 0 1 0 40 0a20 20 0 1 0 -40 0M1288.2 903a20 20 0 1 0 40 0a20 20 0 1 0 -40 0M1293.2 903a20 20 0 1 0 40 0a20 20 0 1 0 -40 0M1298.1 903a20 20 0 1 0 40 0a20 20 0 1 0 -40 0M1308.1 908a20 20 0 1 0 40 0a20 20 0 1 0 -40 0M1313.1 908a20 20 0 1 0 40 0a20 20 0 1 0 -40 0M1318.1 908a20 20 0 1 0 40 0a20 20 0 1 0 -40 0M1328.1 908a20 20 0 1 0 40 0a20 20 0 1 0 -40 0M1333.1 908a20 20 0 1 0 40 0a20 20 0 1 0 -40 0M1338 908a20 20 0 1 0 40 0a20 20 0 1 0 -40 0M1348 908a20 20 0 1 0 40 0a20 20 0 1 0 -40 0M1353 908a20 20 0 1 0 40 0a20 20 0 1 0 -40 0M1358 908a20 20 0 1 0 40 0a20 20 0 1 0 -40 0M1368 908a20 20 0 1 0 40 0a20 20 0 1 0 -40 0M1372.9 908a20 20 0 1 0 40 0a20 20 0 1 0 -40 0M1377.9 908a20 20 0 1 0 40 0a20 20 0 1 0 -40 0M1387.9 908a20 20 0 1 0 40 0a20 20 0 1 0 -40 0M1392.9 908a20 20 0 1 0 40 0a20 20 0 1 0 -40 0M1397.9 908a20 20 0 1 0 40 0a20 20 0 1 0 -40 0M1402.9 908a20 20 0 1 0 40 0a20 20 0 1 0 -40 0M1412.8 908a20 20 0 1 0 40 0a20 20 0 1 0 -40 0M1417.8 908a20 20 0 1 0 40 0a20 20 0 1 0 -40 0M1422.8 908a20 20 0 1 0 40 0a20 20 0 1 0 -40 0M1432.8 908a20 20 0 1 0 40 0a20 20 0 1 0 -40 0M1437.8 908a20 20 0 1 0 40 0a20 20 0 1 0 -40 0M1442.8 908a20 20 0 1 0 40 0a20 20 0 1 0 -40 0M1452.7 908a20 20 0 1 0 40 0a20 20 0 1 0 -40 0M1457.7 908a20 20 0 1 0 40 0a20 20 0 1 0 -40 0M1462.7 908a20 20 0 1 0 40 0a20 20 0 1 0 -40 0M1472.7 908a20 20 0 1 0 40 0a20 20 0 1 0 -40 0M1477.7 908a20 20 0 1 0 40 0a20 20 0 1 0 -40 0M1482.7 908a20 20 0 1 0 40 0a20 20 0 1 0 -40 0M1492.6 908a20 20 0 1 0 40 0a20 20 0 1 0 -40 0M1497.6 908a20 20 0 1 0 40 0a20 20 0 1 0 -40 0M1502.6 908a20 20 0 1 0 40 0a20 20 0 1 0 -40 0M1512.6 908a20 20 0 1 0 40 0a20 20 0 1 0 -40 0M1517.6 908a20 20 0 1 0 40 0a20 20 0 1 0 -40 0M1522.5 908a20 20 0 1 0 40 0a20 20 0 1 0 -40 0M1532.5 908a20 20 0 1 0 40 0a20 20 0 1 0 -40 0M1537.5 908a20 20 0 1 0 40 0a20 20 0 1 0 -40 0M1542.5 908a20 20 0 1 0 40 0a20 20 0 1 0 -40 0M1552.5 908a20 20 0 1 0 40 0a20 20 0 1 0 -40 0M1557.4 908a20 20 0 1 0 40 0a20 20 0 1 0 -40 0M1562.4 908a20 20 0 1 0 40 0a20 20 0 1 0 -40 0M1567.4 908a20 20 0 1 0 40 0a20 20 0 1 0 -40 0M1577.4 908a20 20 0 1 0 40 0a20 20 0 1 0 -40 0M1582.4 908a20 20 0 1 0 40 0a20 20 0 1 0 -40 0M1587.4 908a20 20 0 1 0 40 0a20 20 0 1 0 -40 0M1597.3 908a20 20 0 1 0 40 0a20 20 0 1 0 -40 0M1602.3 908a20 20 0 1 0 40 0a20 20 0 1 0 -40 0M1607.3 908a20 20 0 1 0 40 0a20 20 0 1 0 -40 0M1617.3 908a20 20 0 1 0 40 0a20 20 0 1 0 -40 0M1622.3 908a20 20 0 1 0 40 0a20 20 0 1 0 -40 0M1627.3 908a20 20 0 1 0 40 0a20 20 0 1 0 -40 0M1637.2 908a20 20 0 1 0 40 0a20 20 0 1 0 -40 0M1642.2 908a20 20 0 1 0 40 0a20 20 0 1 0 -40 0M1647.2 908a20 20 0 1 0 40 0a20 20 0 1 0 -40 0M1657.2 908a20 20 0 1 0 40 0a20 20 0 1 0 -40 0M1662.2 908a20 20 0 1 0 40 0a20 20 0 1 0 -40 0M1667.2 908a20 20 0 1 0 40 0a20 20 0 1 0 -40 0M1677.1 908a20 20 0 1 0 40 0a20 20 0 1 0 -40 0M1682.1 908a20 20 0 1 0 40 0a20 20 0 1 0 -40 0M1687.1 908a20 20 0 1 0 40 0a20 20 0 1 0 -40 0M1697.1 908a20 20 0 1 0 40 0a20 20 0 1 0 -40 0M1702.1 908a20 20 0 1 0 40 0a20 20 0 1 0 -40 0M1707 908a20 20 0 1 0 40 0a20 20 0 1 0 -40 0M1717 908a20 20 0 1 0 40 0a20 20 0 1 0 -40 0M1722 908a20 20 0 1 0 40 0a20 20 0 1 0 -40 0M1727 908a20 20 0 1 0 40 0a20 20 0 1 0 -40 0M1732 908a20 20 0 1 0 40 0a20 20 0 1 0 -40 0M1742 908a20 20 0 1 0 40 0a20 20 0 1 0 -40 0M1746.9 908a20 20 0 1 0 40 0a20 20 0 1 0 -40 0M1751.9 908a20 20 0 1 0 40 0a20 20 0 1 0 -40 0M1761.9 908a20 20 0 1 0 40 0a20 20 0 1 0 -40 0M1766.9 908a20 20 0 1 0 40 0a20 20 0 1 0 -40 0M1771.9 908a20 20 0 1 0 40 0a20 20 0 1 0 -40 0M1781.8 908a20 20 0 1 0 40 0a20 20 0 1 0 -40 0M1786.8 908a20 20 0 1 0 40 0a20 20 0 1 0 -40 0M1791.8 908a20 20 0 1 0 40 0a20 20 0 1 0 -40 0M1801.8 908a20 20 0 1 0 40 0a20 20 0 1 0 -40 0M1806.8 908a20 20 0 1 0 40 0a20 20 0 1 0 -40 0M1811.8 908a20 20 0 1 0 40 0a20 20 0 1 0 -40 0M1821.7 908a20 20 0 1 0 40 0a20 20 0 1 0 -40 0M1826.7 908a20 20 0 1 0 40 0a20 20 0 1 0 -40 0M1831.7 908a20 20 0 1 0 40 0a20 20 0 1 0 -40 0M1841.7 908a20 20 0 1 0 40 0a20 20 0 1 0 -40 0M1846.7 908a20 20 0 1 0 40 0a20 20 0 1 0 -40 0M1851.7 908a20 20 0 1 0 40 0a20 20 0 1 0 -40 0M1861.6 908a20 20 0 1 0 40 0a20 20 0 1 0 -40 0M1866.6 908a20 20 0 1 0 40 0a20 20 0 1 0 -40 0M1871.6 908a20 20 0 1 0 40 0a20 20 0 1 0 -40 0M1881.6 908a20 20 0 1 0 40 0a20 20 0 1 0 -40 0M1886.6 913a20 20 0 1 0 40 0a20 20 0 1 0 -40 0M1891.6 913a20 20 0 1 0 40 0a20 20 0 1 0 -40 0M1896.5 913a20 20 0 1 0 40 0a20 20 0 1 0 -40 0M1906.5 913a20 20 0 1 0 40 0a20 20 0 1 0 -40 0"/>
</g>
<g stroke="#00f">
<path d="M261 653.6 L266 593.8 L271 628.7 L280.9 633.7 L285.9 633.7 L290.9 628.7 L300.9 648.6 L305.9 658.6 L310.9 663.6 L320.8 668.6 L325.8 668.6 L330.8 668.6 L340.8 673.6 L345.8 673.6 L350.7 673.6 L360.7 673.6 L365.7 673.6 L370.7 673.6 L380.7 673.6 L385.7 673.6 L390.6 673.6 L400.6 668.6 L405.6 668.6 L410.6 668.6 L420.6 668.6 L425.5 663.6 L430.5 663.6 L435.5 663.6 L445.5 663.6 L450.5 663.6 L455.5 663.6 L465.4 663.6 L470.4 663.6 L475.4 663.6 L485.4 663.6 L490.4 663.6 L495.4 663.6 L505.3 663.6 L510.3 663.6 L515.3 663.6 L525.3 663.6 L530.3 663.6 L535.2 663.6 L545.2 663.6 L550.2 663.6 L555.2 663.6 L565.2 663.6 L570.2 663.6 L575.1 663.6 L585.1 663.6 L590.1 663.6 L595.1 658.6 L600.1 663.6 L610 663.6 L615 663.6 L620 663.6 L630 663.6 L635 663.6 L640 663.6 L649.9 663.6 L654.9 663.6 L659.9 663.6 L669.9 663.6 L674.9 663.6 L679.9 663.6 L689.8 658.6 L694.8 658.6 L699.8 658.6 L709.8 658.6 L714.8 658.6 L719.8 663.6 L729.7 658.6 L734.7 658.6 L739.7 658.6 L749.7 658.6 L754.7 658.6 L759.6 658.6 L764.6 658.6 L774.6 658.6 L779.6 658.6 L784.6 658.6 L794.6 658.6 L799.5 658.6 L804.5 658.6 L814.5 658.6 L819.5 658.6 L824.5 658.6 L834.4 658.6 L839.4 658.6 L844.4 658.6 L854.4 658.6 L859.4 658.6 L864.4 658.6 L874.3 658.6 L879.3 658.6 L884.3 658.6 L894.3 658.6 L899.3 658.6 L904.3 658.6 L914.2 658.6 L919.2 658.6 L924.2 658.6 L929.2 658.6 L939.2 658.6 L944.2 658.6 L949.1 658.6 L959.1 658.6 L964.1 658.6 L969.1 658.6 L979.1 658.6 L984 658.6 L989 658.6 L999 658.6 L1004 658.6 L1009 658.6 L1018.9 658.6 L1023.9 658.6 L1028.9 658.6 L1038.9 658.6 L1043.9 658.6 L1048.9 658.6 L1058.8 658.6 L1063.8 658.6 L1068.8 658.6 L1078.8 658.6 L1083.8 658.6 L1088.8 658.6 L1093.7 658.6 L1103.7 658.6 L1108.7 658.6 L1113.7 658.6 L1123.7 653.6 L1128.7 658.6 L1133.6 658.6 L1143.6 653.6 L1148.6 653.6 L1153.6 653.6 L1163.6 653.6 L1168.5 653.6 L1173.5 653.6 L1183.5 653.6 L1188.5 653.6 L1193.5 653.6 L1203.5 653.6 L1208.4 653.6 L1213.4 653.6 L1223.4 653.6 L1228.4 653.6 L1233.4 653.6 L1243.3 653.6 L1248.3 653.6 L1253.3 653.6 L1258.3 653.6 L1268.3 653.6 L1273.3 653.6 L1278.3 653.6 L1288.2 653.6 L1293.2 653.6 L1298.2 653.6 L1308.2 653.6 L1313.2 653.6 L1318.1 653.6 L1328.1 653.6 L1333.1 653.6 L1338.1 653.6 L1348.1 653.6 L1353.1 653.6 L1358 653.6 L1368 653.6 L1373 653.6 L1378 653.6 L1388 653.6 L1392.9 653.6 L1397.9 653.6 L1407.9 653.6 L1412.9 653.6 L1417.9 653.6 L1422.9 653.6 L1432.8 653.6 L1437.8 653.6 L1442.8 653.6 L1452.8 653.6 L1457.8 653.6 L1462.8 653.6 L1472.7 653.6 L1477.7 653.6 L1482.7 653.6 L1492.7 653.6 L1497.7 653.6 L1502.7 653.6 L1512.6 653.6 L1517.6 653.6 L1522.6 653.6 L1532.6 653.6 L1537.6 653.6 L1542.5 653.6 L1552.5 653.6 L1557.5 653.6 L1562.5 653.6 L1572.5 653.6 L1577.4 653.6 L1582.4 653.6 L1587.4 653.6 L1597.4 653.6 L1602.4 653.6 L1607.4 653.6 L1617.3 653.6 L1622.3 653.6 L1627.3 653.6 L1637.3 653.6 L1642.3 653.6 L1647.3 653.6 L1657.2 653.6 L1662.2 653.6 L1667.2 653.6 L1677.2 653.6 L1682.2 653.6 L1687.2 653.6 L1697.1 653.6 L1702.1 653.6 L1707.1 653.6 L1717.1 653.6 L1722.1 653.6 L1727 653.6 L1737 653.6 L1742 653.6 L1747 653.6 L1752 653.6 L1762 653.6 L1766.9 653.6 L1771.9 653.6 L1781.9 653.6 L1786.9 653.6 L1791.9 653.6 L1801.8 653.6 L1806.8 653.6 L1811.8 653.6 L1821.8 653.6 L1826.8 653.6 L1831.8 653.6 L1841.7 653.6 L1846.7 653.6 L1851.7 653.6 L1861.7 653.6 L1866.7 653.6 L1871.7 653.6 L1881.6 653.6 L1886.6 653.6 L1891.6 653.6 L1901.6 653.6 L1906.6 653.6 L1911.6 653.6 L1916.5 653.6 L1926.5 653.6"/>
<path d="M251.2 656.1a12.3 12.3 0 1 0 24.6 0a12.3 12.3 0 1 0 -24.6 0M256.2 596.3a12.3 12.3 0 1 0 24.6 0a12.3 12.3 0 1 0 -24.6 0M261.2 631.2a12.3 12.3 0 1 0 24.6 0a12.3 12.3 0 1 0 -24.6 0M271.1 636.2a12.3 12.3 0 1 0 24.6 0a12.3 12.3 0 1 0 -24.6 0M276.1 636.2a12.3 12.3 0 1 0 24.6 0a12.3 12.3 0 1 0 -24.6 0M281.1 631.2a12.3 12.3 0 1 0 24.6 0a12.3 12.3 0 1 0 -24.6 0M291.1 651.1a12.3 12.3 0 1 0 24.6 0a12.3 12.3 0 1 0 -24.6 0M296.1 661.1a12.3 12.3 0 1 0 24.6 0a12.3 12.3 0 1 0 -24.6 0M301.1 666.1a12.3 12.3 0 1 0 24.6 0a12.3 12.3 0 1 0 -24.6 0M311 671.1a12.3 12.3 0 1 0 24.6 0a12.3 12.3 0 1 0 -24.6 0M316 671.1a12.3 12.3 0 1 0 24.6 0a12.3 12.3 0 1 0 -24.6 0M321 671.1a12.3 12.3 0 1 0 24.6 0a12.3 12.3 0 1 0 -24.6 0M331 676.1a12.3 12.3 0 1 0 24.6 0a12.3 12.3 0 1 0 -24.6 0M336 676.1a12.3 12.3 0 1 0 24.6 0a12.3 12.3 0 1 0 -24.6 0M340.9 676.1a12.3 12.3 0 1 0 24.6 0a12.3 12.3 0 1 0 -24.6 0M350.9 676.1a12.3 12.3 0 1 0 24.6 0a12.3 12.3 0 1 0 -24.6 0M355.9 676.1a12.3 12.3 0 1 0 24.6 0a12.3 12.3 0 1 0 -24.6 0M360.9 676.1a12.3 12.3 0 1 0 24.6 0a12.3 12.3 0 1 0 -24.6 0M370.9 676.1a12.3 12.3 0 1 0 24.6 0a12.3 12.3 0 1 0 -24.6 0M375.9 676.1a12.3 12.3 0 1 0 24.6 0a12.3 12.3 0 1 0 -24.6 0M380.8 676.1a12.3 12.3 0 1 0 24.6 0a12.3 12.3 0 1 0 -24.6 0M390.8 671.1a12.3 12.3 0 1 0 24.6 0a12.3 12.3 0 1 0 -24.6 0M395.8 671.1a12.3 12.3 0 1 0 24.6 0a12.3 12.3 0 1 0 -24.6 0M400.8 671.1a12.3 12.3 0 1 0 24.6 0a12.3 12.3 0 1 0 -24.6 0M410.8 671.1a12.3 12.3 0 1 0 24.6 0a12.3 12.3 0 1 0 -24.6 0M415.7 666.1a12.3 12.3 0 1 0 24.6 0a12.3 12.3 0 1 0 -24.6 0M420.7 666.1a12.3 12.3 0 1 0 24.6 0a12.3 12.3 0 1 0 -24.6 0M425.7 666.1a12.3 12.3 0 1 0 24.6 0a12.3 12.3 0 1 0 -24.6 0M435.7 666.1a12.3 12.3 0 1 0 24.6 0a12.3 12.3 0 1 0 -24.6 0M440.7 666.1a12.3 12.3 0 1 0 24.6 0a12.3 12.3 0 1 0 -24.6 0M445.7 666.1a12.3 12.3 0 1 0 24.6 0a12.3 12.3 0 1 0 -24.6 0M455.6 666.1a12.3 12.3 0 1 0 24.6 0a12.3 12.3 0 1 0 -24.6 0M460.6 666.1a12.3 12.3 0 1 0 24.6 0a12.3 12.3 0 1 0 -24.6 0M465.6 666.1a12.3 12.3 0 1 0 24.6 0a12.3 12.3 0 1 0 -24.6 0M475.6 666.1a12.3 12.3 0 1 0 24.6 0a12.3 12.3 0 1 0 -24.6 0M480.6 666.1a12.3 12.3 0 1 0 24.6 0a12.3 12.3 0 1 0 -24.6 0M485.6 666.1a12.3 12.3 0 1 0 24.6 0a12.3 12.3 0 1 0 -24.6 0M495.5 666.1a12.3 12.3 0 1 0 24.6 0a12.3 12.3 0 1 0 -24.6 0M500.5 666.1a12.3 12.3 0 1 0 24.6 0a12.3 12.3 0 1 0 -24.6 0M505.5 666.1a12.3 12.3 0 1 0 24.6 0a12.3 12.3 0 1 0 -24.6 0M515.5 666.1a12.3 12.3 0 1 0 24.6 0a12.3 12.3 0 1 0 -24.6 0M520.5 666.1a12.3 12.3 0 1 0 24.6 0a12.3 12.3 0 1 0 -24.6 0M525.4 666.1a12.3 12.3 0 1 0 24.6 0a12.3 12.3 0 1 0 -24.6 0M535.4 666.1a12.3 12.3 0 1 0 24.6 0a12.3 12.3 0 1 0 -24.6 0M540.4 666.1a12.3 12.3 0 1 0 24.6 0a12.3 12.3 0 1 0 -24.6 0M545.4 666.1a12.3 12.3 0 1 0 24.6 0a12.3 12.3 0 1 0 -24.6 0M555.4 666.1a12.3 12.3 0 1 0 24.6 0a12.3 12.3 0 1 0 -24.6 0M560.4 666.1a12.3 12.3 0 1 0 24.6 0a12.3 12.3 0 1 0 -24.6 0M565.3 666.1a12.3 12.3 0 1 0 24.6 0a12.3 12.3 0 1 0 -24.6 0M575.3 666.1a12.3 12.3 0 1 0 24.6 0a12.3 12.3 0 1 0 -24.6 0M580.3 666.1a12.3 12.3 0 1 0 24.6 0a12.3 12.3 0 1 0 -24.6 0M585.3 661.1a12.3 12.3 0 1 0 24.6 0a12.3 12.3 0 1 0 -24.6 0M590.3 666.1a12.3 12.3 0 1 0 24.6 0a12.3 12.3 0 1 0 -24.6 0M600.2 666.1a12.3 12.3 0 1 0 24.6 0a12.3 12.3 0 1 0 -24.6 0M605.2 666.1a12.3 12.3 0 1 0 24.6 0a12.3 12.3 0 1 0 -24.6 0M610.2 666.1a12.3 12.3 0 1 0 24.6 0a12.3 12.3 0 1 0 -24.6 0M620.2 666.1a12.3 12.3 0 1 0 24.6 0a12.3 12.3 0 1 0 -24.6 0M625.2 666.1a12.3 12.3 0 1 0 24.6 0a12.3 12.3 0 1 0 -24.6 0M630.2 666.1a12.3 12.3 0 1 0 24.6 0a12.3 12.3 0 1 0 -24.6 0M640.1 666.1a12.3 12.3 0 1 0 24.6 0a12.3 12.3 0 1 0 -24.6 0M645.1 666.1a12.3 12.3 0 1 0 24.6 0a12.3 12.3 0 1 0 -24.6 0M650.1 666.1a12.3 12.3 0 1 0 24.6 0a12.3 12.3 0 1 0 -24.6 0M660.1 666.1a12.3 12.3 0 1 0 24.6 0a12.3 12.3 0 1 0 -24.6 0M665.1 666.1a12.3 12.3 0 1 0 24.6 0a12.3 12.3 0 1 0 -24.6 0M670.1 666.1a12.3 12.3 0 1 0 24.6 0a12.3 12.3 0 1 0 -24.6 0M680 661.1a12.3 12.3 0 1 0 24.6 0a12.3 12.3 0 1 0 -24.6 0M685 661.1a12.3 12.3 0 1 0 24.6 0a12.3 12.3 0 1 0 -24.6 0M690 661.1a12.3 12.3 0 1 0 24.6 0a12.3 12.3 0 1 0 -24.6 0M700 661.1a12.3 12.3 0 1 0 24.6 0a12.3 12.3 0 1 0 -24.6 0M705 661.1a12.3 12.3 0 1 0 24.6 0a12.3 12.3 0 1 0 -24.6 0M710 666.1a12.3 12.3 0 1 0 24.6 0a12.3 12.3 0 1 0 -24.6 0M719.9 661.1a12.3 12.3 0 1 0 24.6 0a12.3 12.3 0 1 0 -24.6 0M724.9 661.1a12.3 12.3 0 1 0 24.6 0a12.3 12.3 0 1 0 -24.6 0M729.9 661.1a12.3 12.3 0 1 0 24.6 0a12.3 12.3 0 1 0 -24.6 0M739.9 661.1a12.3 12.3 0 1 0 24.6 0a12.3 12.3 0 1 0 -24.6 0M744.9 661.1a12.3 12.3 0 1 0 24.6 0a12.3 12.3 0 1 0 -24.6 0M749.8 661.1a12.3 12.3 0 1 0 24.6 0a12.3 12.3 0 1 0 -24.6 0M754.8 661.1a12.3 12.3 0 1 0 24.6 0a12.3 12.3 0 1 0 -24.6 0M764.8 661.1a12.3 12.3 0 1 0 24.6 0a12.3 12.3 0 1 0 -24.6 0M769.8 661.1a12.3 12.3 0 1 0 24.6 0a12.3 12.3 0 1 0 -24.6 0M774.8 661.1a12.3 12.3 0 1 0 24.6 0a12.3 12.3 0 1 0 -24.6 0M784.8 661.1a12.3 12.3 0 1 0 24.6 0a12.3 12.3 0 1 0 -24.6 0M789.7 661.1a12.3 12.3 0 1 0 24.6 0a12.3 12.3 0 1 0 -24.6 0M794.7 661.1a12.3 12.3 0 1 0 24.6 0a12.3 12.3 0 1 0 -24.6 0M804.7 661.1a12.3 12.3 0 1 0 24.6 0a12.3 12.3 0 1 0 -24.6 0M809.7 661.1a12.3 12.3 0 1 0 24.6 0a12.3 12.3 0 1 0 -24.6 0M814.7 661.1a12.3 12.3 0 1 0 24.6 0a12.3 12.3 0 1 0 -24.6 0M824.6 661.1a12.3 12.3 0 1 0 24.6 0a12.3 12.3 0 1 0 -24.6 0M829.6 661.1a12.3 12.3 0 1 0 24.6 0a12.3 12.3 0 1 0 -24.6 0M834.6 661.1a12.3 12.3 0 1 0 24.6 0a12.3 12.3 0 1 0 -24.6 0M844.6 661.1a12.3 12.3 0 1 0 24.6 0a12.3 12.3 0 1 0 -24.6 0M849.6 661.1a12.3 12.3 0 1 0 24.6 0a12.3 12.3 0 1 0 -24.6 0M854.6 661.1a12.3 12.3 0 1 0 24.6 0a12.3 12.3 0 1 0 -24.6 0M864.5 661.1a12.3 12.3 0 1 0 24.6 0a12.3 12.3 0 1 0 -24.6 0M869.5 661.1a12.3 12.3 0 1 0 24.6 0a12.3 12.3 0 1 0 -24.6 0M874.5 661.1a12.3 12.3 0 1 0 24.6 0a12.3 12.3 0 1 0 -24.6 0M884.5 661.1a12.3 12.3 0 1 0 24.6 0a12.3 12.3 0 1 0 -24.6 0M889.5 661.1a12.3 12.3 0 1 0 24.6 0a12.3 12.3 0 1 0 -24.6 0M894.5 661.1a12.3 12.3 0 1 0 24.6 0a12.3 12.3 0 1 0 -24.6 0M904.4 661.1a12.3 12.3 0 1 0 24.6 0a12.3 12.3 0 1 0 -24.6 0M909.4 661.1a12.3 12.3 0 1 0 24.6 0a12.3 12.3 0 1 0 -24.6 0M914.4 661.1a12.3 12.3 0 1 0 24.6 0a12.3 12.3 0 1 0 -24.6 0M919.4 661.1a12.3 12.3 0 1 0 24.6 0a12.3 12.3 0 1 0 -24.6 0M929.4 661.1a12.3 12.3 0 1 0 24.6 0a12.3 12.3 0 1 0 -24.6 0M934.4 661.1a12.3 12.3 0 1 0 24.6 0a12.3 12.3 0 1 0 -24.6 0M939.3 661.1a12.3 12.3 0 1 0 24.6 0a12.3 12.3 0 1 0 -24.6 0M949.3 661.1a12.3 12.3 0 1 0 24.6 0a12.3 12.3 0 1 0 -24.6 0M954.3 661.1a12.3 12.3 0 1 0 24.6 0a12.3 12.3 0 1 0 -24.6 0M959.3 661.1a12.3 12.3 0 1 0 24.6 0a12.3 12.3 0 1 0 -24.6 0M969.3 661.1a12.3 12.3 0 1 0 24.6 0a12.3 12.3 0 1 0 -24.6 0M974.2 661.1a12.3 12.3 0 1 0 24.6 0a12.3 12.3 0 1 0 -24.6 0M979.2 661.1a12.3 12.3 0 1 0 24.6 0a12.3 12.3 0 1 0 -24.6 0M989.2 661.1a12.3 12.3 0 1 0 24.6 0a12.3 12.3 0 1 0 -24.6 0M994.2 661.1a12.3 12.3 0 1 0 24.6 0a12.3 12.3 0 1 0 -24.6 0M999.2 661.1a12.3 12.3 0 1 0 24.6 0a12.3 12.3 0 1 0 -24.6 0M1009.1 661.1a12.3 12.3 0 1 0 24.6 0a12.3 12.3 0 1 0 -24.6 0M1014.1 661.1a12.3 12.3 0 1 0 24.6 0a12.3 12.3 0 1 0 -24.6 0M1019.1 661.1a12.3 12.3 0 1 0 24.6 0a12.3 12.3 0 1 0 -24.6 0M1029.1 661.1a12.3 12.3 0 1 0 24.6 0a12.3 12.3 0 1 0 -24.6 0M1034.1 661.1a12.3 12.3 0 1 0 24.6 0a12.3 12.3 0 1 0 -24.6 0M1039.1 661.1a12.3 12.3 0 1 0 24.6 0a12.3 12.3 0 1 0 -24.6 0M1049 661.1a12.3 12.3 0 1 0 24.6 0a12.3 12.3 0 1 0 -24.6 0M1054 661.1a12.3 12.3 0 1 0 24.6 0a12.3 12.3 0 1 0 -24.6 0M1059 661.1a12.3 12.3 0 1 0 24.6 0a12.3 12.3 0 1 0 -24.6 0M1069 661.1a12.3 12.3 0 1 0 24.6 0a12.3 12.3 0 1 0 -24.6 0M1074 661.1a12.3 12.3 0 1 0 24.6 0a12.3 12.3 0 1 0 -24.6 0M1079 661.1a12.3 12.3 0 1 0 24.6 0a12.3 12.3 0 1 0 -24.6 0M1083.9 661.1a12.3 12.3 0 1 0 24.6 0a12.3 12.3 0 1 0 -24.6 0M1093.9 661.1a12.3 12.3 0 1 0 24.6 0a12.3 12.3 0 1 0 -24.6 0M1098.9 661.1a12.3 12.3 0 1 0 24.6 0a12.3 12.3 0 1 0 -24.6 0M1103.9 661.1a12.3 12.3 0 1 0 24.6 0a12.3 12.3 0 1 0 -24.6 0M1113.9 656.1a12.3 12.3 0 1 0 24.6 0a12.3 12.3 0 1 0 -24.6 0M1118.9 661.1a12.3 12.3 0 1 0 24.6 0a12.3 12.3 0 1 0 -24.6 0M1123.8 661.1a12.3 12.3 0 1 0 24.6 0a12.3 12.3 0 1 0 -24.6 0M1133.8 656.1a12.3 12.3 0 1 0 24.6 0a12.3 12.3 0 1 0 -24.6 0M1138.8 656.1a12.3 12.3 0 1 0 24.6 0a12.3 12.3 0 1 0 -24.6 0M1143.8 656.1a12.3 12.3 0 1 0 24.6 0a12.3 12.3 0 1 0 -24.6 0M1153.8 656.1a12.3 12.3 0 1 0 24.6 0a12.3 12.3 0 1 0 -24.6 0M1158.7 656.1a12.3 12.3 0 1 0 24.6 0a12.3 12.3 0 1 0 -24.6 0M1163.7 656.1a12.3 12.3 0 1 0 24.6 0a12.3 12.3 0 1 0 -24.6 0M1173.7 656.1a12.3 12.3 0 1 0 24.6 0a12.3 12.3 0 1 0 -24.6 0M1178.7 656.1a12.3 12.3 0 1 0 24.6 0a12.3 12.3 0 1 0 -24.6 0M1183.7 656.1a12.3 12.3 0 1 0 24.6 0a12.3 12.3 0 1 0 -24.6 0M1193.7 656.1a12.3 12.3 0 1 0 24.6 0a12.3 12.3 0 1 0 -24.6 0M1198.6 656.1a12.3 12.3 0 1 0 24.6 0a12.3 12.3 0 1 0 -24.6 0M1203.6 656.1a12.3 12.3 0 1 0 24.6 0a12.3 12.3 0 1 0 -24.6 0M1213.6 656.1a12.3 12.3 0 1 0 24.6 0a12.3 12.3 0 1 0 -24.6 0M1218.6 656.1a12.3 12.3 0 1 0 24.6 0a12.3 12.3 0 1 0 -24.6 0M1223.6 656.1a12.3 12.3 0 1 0 24.6 0a12.3 12.3 0 1 0 -24.6 0M1233.5 656.1a12.3 12.3 0 1 0 24.6 0a12.3 12.3 0 1 0 -24.6 0M1238.5 656.1a12.3 12.3 0 1 0 24.6 0a12.3 12.3 0 1 0 -24.6 0M1243.5 656.1a12.3 12.3 0 1 0 24.6 0a12.3 12.3 0 1 0 -24.6 0M1248.5 656.1a12.3 12.3 0 1 0 24.6 0a12.3 12.3 0 1 0 -24.6 0M1258.5 656.1a12.3 12.3 0 1 0 24.6 0a12.3 12.3 0 1 0 -24.6 0M1263.5 656.1a12.3 12.3 0 1 0 24.6 0a12.3 12.3 0 1 0 -24.6 0M1268.5 656.1a12.3 12.3 0 1 0 24.6 0a12.3 12.3 0 1 0 -24.6 0M1278.4 656.1a12.3 12.3 0 1 0 24.6 0a12.3 12.3 0 1 0 -24.6 0M1283.4 656.1a12.3 12.3 0 1 0 24.6 0a12.3 12.3 0 1 0 -24.6 0M1288.4 656.1a12.3 12.3 0 1 0 24.6 0a12.3 12.3 0 1 0 -24.6 0M1298.4 656.1a12.3 12.3 0 1 0 24.6 0a12.3 12.3 0 1 0 -24.6 0M1303.4 656.1a12.3 12.3 0 1 0 24.6 0a12.3 12.3 0 1 0 -24.6 0M1308.3 656.1a12.3 12.3 0 1 0 24.6 0a12.3 12.3 0 1 0 -24.6 0M1318.3 656.1a12.3 12.3 0 1 0 24.6 0a12.3 12.3 0 1 0 -24.6 0M1323.3 656.1a12.3 12.3 0 1 0 24.6 0a12.3 12.3 0 1 0 -24.6 0M1328.3 656.1a12.3 12.3 0 1 0 24.6 0a12.3 12.3 0 1 0 -24.6 0M1338.3 656.1a12.3 12.3 0 1 0 24.6 0a12.3 12.3 0 1 0 -24.6 0M1343.3 656.1a12.3 12.3 0 1 0 24.6 0a12.3 12.3 0 1 0 -24.6 0M1348.2 656.1a12.3 12.3 0 1 0 24.6 0a12.3 12.3 0 1 0 -24.6 0M1358.2 656.1a12.3 12.3 0 1 0 24.6 0a12.3 12.3 0 1 0 -24.6 0M1363.2 656.1a12.3 12.3 0 1 0 24.6 0a12.3 12.3 0 1 0 -24.6 0M1368.2 656.1a12.3 12.3 0 1 0 24.6 0a12.3 12.3 0 1 0 -24.6 0M1378.2 656.1a12.3 12.3 0 1 0 24.6 0a12.3 12.3 0 1 0 -24.6 0M1383.1 656.1a12.3 12.3 0 1 0 24.6 0a12.3 12.3 0 1 0 -24.6 0M1388.1 656.1a12.3 12.3 0 1 0 24.6 0a12.3 12.3 0 1 0 -24.6 0M1398.1 656.1a12.3 12.3 0 1 0 24.6 0a12.3 12.3 0 1 0 -24.6 0M1403.1 656.1a12.3 12.3 0 1 0 24.6 0a12.3 12.3 0 1 0 -24.6 0M1408.1 656.1a12.3 12.3 0 1 0 24.6 0a12.3 12.3 0 1 0 -24.6 0M1413.1 656.1a12.3 12.3 0 1 0 24.6 0a12.3 12.3 0 1 0 -24.6 0M1423 656.1a12.3 12.3 0 1 0 24.6 0a12.3 12.3 0 1 0 -24.6 0M1428 656.1a12.3 12.3 0 1 0 24.6 0a12.3 12.3 0 1 0 -24.6 0M1433 656.1a12.3 12.3 0 1 0 24.6 0a12.3 12.3 0 1 0 -24.6 0M1443 656.1a12.3 12.3 0 1 0 24.6 0a12.3 12.3 0 1 0 -24.6 0M1448 656.1a12.3 12.3 0 1 0 24.6 0a12.3 12.3 0 1 0 -24.6 0M1453 656.1a12.3 12.3 0 1 0 24.6 0a12.3 12.3 0 1 0 -24.6 0M1462.9 656.1a12.3 12.3 0 1 0 24.6 0a12.3 12.3 0 1 0 -24.6 0M1467.9 656.1a12.3 12.3 0 1 0 24.6 0a12.3 12.3 0 1 0 -24.6 0M1472.9 656.1a12.3 12.3 0 1 0 24.6 0a12.3 12.3 0 1 0 -24.6 0M1482.9 656.1a12.3 12.3 0 1 0 24.6 0a12.3 12.3 0 1 0 -24.6 0M1487.9 656.1a12.3 12.3 0 1 0 24.6 0a12.3 12.3 0 1 0 -24.6 0M1492.9 656.1a12.3 12.3 0 1 0 24.6 0a12.3 12.3 0 1 0 -24.6 0M1502.8 656.1a12.3 12.3 0 1 0 24.6 0a12.3 12.3 0 1 0 -24.6 0M1507.8 656.1a12.3 12.3 0 1 0 24.6 0a12.3 12.3 0 1 0 -24.6 0M1512.8 656.1a12.3 12.3 0 1 0 24.6 0a12.3 12.3 0 1 0 -24.6 0M1522.8 656.1a12.3 12.3 0 1 0 24.6 0a12.3 12.3 0 1 0 -24.6 0M1527.8 656.1a12.3 12.3 0 1 0 24.6 0a12.3 12.3 0 1 0 -24.6 0M1532.7 656.1a12.3 12.3 0 1 0 24.6 0a12.3 12.3 0 1 0 -24.6 0M1542.7 656.1a12.3 12.3 0 1 0 24.6 0a12.3 12.3 0 1 0 -24.6 0M1547.7 656.1a12.3 12.3 0 1 0 24.6 0a12.3 12.3 0 1 0 -24.6 0M1552.7 656.1a12.3 12.3 0 1 0 24.6 0a12.3 12.3 0 1 0 -24.6 0M1562.7 656.1a12.3 12.3 0 1 0 24.6 0a12.3 12.3 0 1 0 -24.6 0M1567.6 656.1a12.3 12.3 0 1 0 24.6 0a12.3 12.3 0 1 0 -24.6 0M1572.6 656.1a12.3 12.3 0 1 0 24.6 0a12.3 12.3 0 1 0 -24.6 0M1577.6 656.1a12.3 12.3 0 1 0 24.6 0a12.3 12.3 0 1 0 -24.6 0M1587.6 656.1a12.3 12.3 0 1 0 24.6 0a12.3 12.3 0 1 0 -24.6 0M1592.6 656.1a12.3 12.3 0 1 0 24.6 0a12.3 12.3 0 1 0 -24.6 0M1597.6 656.1a12.3 12.3 0 1 0 24.6 0a12.3 12.3 0 1 0 -24.6 0M1607.5 656.1a12.3 12.3 0 1 0 24.6 0a12.3 12.3 0 1 0 -24.6 0M1612.5 656.1a12.3 12.3 0 1 0 24.6 0a12.3 12.3 0 1 0 -24.6 0M1617.5 656.1a12.3 12.3 0 1 0 24.6 0a12.3 12.3 0 1 0 -24.6 0M1627.5 656.1a12.3 12.3 0 1 0 24.6 0a12.3 12.3 0 1 0 -24.6 0M1632.5 656.1a12.3 12.3 0 1 0 24.6 0a12.3 12.3 0 1 0 -24.6 0M1637.5 656.1a12.3 12.3 0 1 0 24.6 0a12.3 12.3 0 1 0 -24.6 0M1647.4 656.1a12.3 12.3 0 1 0 24.6 0a12.3 12.3 0 1 0 -24.6 0M1652.4 656.1a12.3 12.3 0 1 0 24.6 0a12.3 12.3 0 1 0 -24.6 0M1657.4 656.1a12.3 12.3 0 1 0 24.6 0a12.3 12.3 0 1 0 -24.6 0M1667.4 656.1a12.3 12.3 0 1 0 24.6 0a12.3 12.3 0 1 0 -24.6 0M1672.4 656.1a12.3 12.3 0 1 0 24.6 0a12.3 12.3 0 1 0 -24.6 0M1677.4 656.1a12.3 12.3 0 1 0 24.6 0a12.3 12.3 0 1 0 -24.6 0M1687.3 656.1a12.3 12.3 0 1 0 24.6 0a12.3 12.3 0 1 0 -24.6 0M1692.3 656.1a12.3 12.3 0 1 0 24.6 0a12.3 12.3 0 1 0 -24.6 0M1697.3 656.1a12.3 12.3 0 1 0 24.6 0a12.3 12.3 0 1 0 -24.6 0M1707.3 656.1a12.3 12.3 0 1 0 24.6 0a12.3 12.3 0 1 0 -24.6 0M1712.3 656.1a12.3 12.3 0 1 0 24.6 0a12.3 12.3 0 1 0 -24.6 0M1717.2 656.1a12.3 12.3 0 1 0 24.6 0a12.3 12.3 0 1 0 -24.6 0M1727.2 656.1a12.3 12.3 0 1 0 24.6 0a12.3 12.3 0 1 0 -24.6 0M1732.2 656.1a12.3 12.3 0 1 0 24.6 0a12.3 12.3 0 1 0 -24.6 0M1737.2 656.1a12.3 12.3 0 1 0 24.6 0a12.3 12.3 0 1 0 -24.6 0M1742.2 656.1a12.3 12.3 0 1 0 24.6 0a12.3 12.3 0 1 0 -24.6 0M1752.2 656.1a12.3 12.3 0 1 0 24.6 0a12.3 12.3 0 1 0 -24.6 0M1757.1 656.1a12.3 12.3 0 1 0 24.6 0a12.3 12.3 0 1 0 -24.6 0M1762.1 656.1a12.3 12.3 0 1 0 24.6 0a12.3 12.3 0 1 0 -24.6 0M1772.1 656.1a12.3 12.3 0 1 0 24.6 0a12.3 12.3 0 1 0 -24.6 0M1777.1 656.1a12.3 12.3 0 1 0 24.6 0a12.3 12.3 0 1 0 -24.6 0M1782.1 656.1a12.3 12.3 0 1 0 24.6 0a12.3 12.3 0 1 0 -24.6 0M1792 656.1a12.3 12.3 0 1 0 24.6 0a12.3 12.3 0 1 0 -24.6 0M1797 656.1a12.3 12.3 0 1 0 24.6 0a12.3 12.3 0 1 0 -24.6 0M1802 656.1a12.3 12.3 0 1 0 24.6 0a12.3 12.3 0 1 0 -24.6 0M1812 656.1a12.3 12.3 0 1 0 24.6 0a12.3 12.3 0 1 0 -24.6 0M1817 656.1a12.3 12.3 0 1 0 24.6 0a12.3 12.3 0 1 0 -24.6 0M1822 656.1a12.3 12.3 0 1 0 24.6 0a12.3 12.3 0 1 0 -24.6 0M1831.9 656.1a12.3 12.3 0 1 0 24.6 0a12.3 12.3 0 1 0 -24.6 0M1836.9 656.1a12.3 12.3 0 1 0 24.6 0a12.3 12.3 0 1 0 -24.6 0M1841.9 656.1a12.3 12.3 0 1 0 24.6 0a12.3 12.3 0 1 0 -24.6 0M1851.9 656.1a12.3 12.3 0 1 0 24.6 0a12.3 12.3 0 1 0 -24.6 0M1856.9 656.1a12.3 12.3 0 1 0 24.6 0a12.3 12.3 0 1 0 -24.6 0M1861.9 656.1a12.3 12.3 0 1 0 24.6 0a12.3 12.3 0 1 0 -24.6 0M1871.8 656.1a12.3 12.3 0 1 0 24.6 0a12.3 12.3 0 1 0 -24.6 0M1876.8 656.1a12.3 12.3 0 1 0 24.6 0a12.3 12.3 0 1 0 -24.6 0M1881.8 656.1a12.3 12.3 0 1 0 24.6 0a12.3 12.3 0 1 0 -24.6 0M1891.8 656.1a12.3 12.3 0 1 0 24.6 0a12.3 12.3 0 1 0 -24.6 0M1896.8 656.1a12.3 12.3 0 1 0 24.6 0a12.3 12.3 0 1 0 -24.6 0M1901.8 656.1a12.3 12.3 0 1 0 24.6 0a12.3 12.3 0 1 0 -24.6 0M1906.7 656.1a12.3 12.3 0 1 0 24.6 0a12.3 12.3 0 1 0 -24.6 0M1916.7 656.1a12.3 12.3 0 1 0 24.6 0a12.3 12.3 0 1 0 -24.6 0" fill="#00f" stroke="none"/>
</g>
<g stroke="#f0f">
<path d="M261 109.9 L266 633.7 L271 883.1 L280.9 898.1 L285.9 962.9 L290.9 987.8 L300.9 1132.5 L305.9 1017.8 L310.9 987.8 L320.8 997.8 L325.8 1022.8 L330.8 1087.6 L340.8 1127.5 L345.8 1107.6 L350.7 1112.6 L360.7 1112.6 L365.7 1112.6 L370.7 1127.5 L380.7 1132.5 L385.7 1142.5 L390.6 1137.5 L400.6 1142.5 L405.6 1137.5 L410.6 1132.5 L420.6 1147.5 L425.5 1162.4 L430.5 1142.5 L435.5 1137.5 L445.5 1117.6 L450.5 1087.6 L455.5 1087.6 L465.4 1097.6 L470.4 1087.6 L475.4 1087.6 L485.4 1082.6 L490.4 1087.6 L495.4 1092.6 L505.3 1102.6 L510.3 1117.6 L515.3 1127.5 L525.3 1127.5 L530.3 1127.5 L535.2 1127.5 L545.2 1127.5 L550.2 1122.5 L555.2 1112.6 L565.2 1097.6 L570.2 1082.6 L575.1 1072.7 L585.1 1072.7 L590.1 1087.6 L595.1 1092.6 L600.1 1102.6 L610 1112.6 L615 1112.6 L620 1102.6 L630 1107.6 L635 1107.6 L640 1107.6 L649.9 1122.5 L654.9 1122.5 L659.9 1117.6 L669.9 1117.6 L674.9 1117.6 L679.9 1117.6 L689.8 1127.5 L694.8 1122.5 L699.8 1112.6 L709.8 1102.6 L714.8 1107.6 L719.8 1117.6 L729.7 1137.5 L734.7 1137.5 L739.7 1137.5 L749.7 1122.5 L754.7 1127.5 L759.6 1122.5 L764.6 1117.6 L774.6 1117.6 L779.6 1117.6 L784.6 1117.6 L794.6 1117.6 L799.5 1112.6 L804.5 1112.6 L814.5 1117.6 L819.5 1122.5 L824.5 1122.5 L834.4 1122.5 L839.4 1127.5 L844.4 1122.5 L854.4 1122.5 L859.4 1122.5 L864.4 1107.6 L874.3 1107.6 L879.3 1107.6 L884.3 1112.6 L894.3 1117.6 L899.3 1122.5 L904.3 1112.6 L914.2 1112.6 L919.2 1112.6 L924.2 1112.6 L929.2 1112.6 L939.2 1107.6 L944.2 1117.6 L949.1 1117.6 L959.1 1122.5 L964.1 1117.6 L969.1 1117.6 L979.1 1112.6 L984 1107.6 L989 1107.6 L999 1102.6 L1004 1097.6 L1009 1097.6 L1018.9 1092.6 L1023.9 1092.6 L1028.9 1087.6 L1038.9 1092.6 L1043.9 1097.6 L1048.9 1092.6 L1058.8 1097.6 L1063.8 1102.6 L1068.8 1102.6 L1078.8 1097.6 L1083.8 1102.6 L1088.8 1102.6 L1093.7 1097.6 L1103.7 1097.6 L1108.7 1097.6 L1113.7 1097.6 L1123.7 1092.6 L1128.7 1092.6 L1133.6 1092.6 L1143.6 1092.6 L1148.6 1097.6 L1153.6 1097.6 L1163.6 1097.6 L1168.5 1102.6 L1173.5 1102.6 L1183.5 1097.6 L1188.5 1097.6 L1193.5 1097.6 L1203.5 1097.6 L1208.4 1097.6 L1213.4 1097.6 L1223.4 1097.6 L1228.4 1097.6 L1233.4 1097.6 L1243.3 1087.6 L1248.3 1087.6 L1253.3 1087.6 L1258.3 1087.6 L1268.3 1087.6 L1273.3 1092.6 L1278.3 1092.6 L1288.2 1087.6 L1293.2 1087.6 L1298.2 1092.6 L1308.2 1097.6 L1313.2 1092.6 L1318.1 1092.6 L1328.1 1092.6 L1333.1 1092.6 L1338.1 1092.6 L1348.1 1087.6 L1353.1 1087.6 L1358 1092.6 L1368 1097.6 L1373 1097.6 L1378 1102.6 L1388 1102.6 L1392.9 1097.6 L1397.9 1097.6 L1407.9 1097.6 L1412.9 1092.6 L1417.9 1092.6 L1422.9 1092.6 L1432.8 1092.6 L1437.8 1092.6 L1442.8 1092.6 L1452.8 1092.6 L1457.8 1097.6 L1462.8 1092.6 L1472.7 1092.6 L1477.7 1092.6 L1482.7 1092.6 L1492.7 1092.6 L1497.7 1092.6 L1502.7 1092.6 L1512.6 1092.6 L1517.6 1092.6 L1522.6 1092.6 L1532.6 1092.6 L1537.6 1087.6 L1542.5 1087.6 L1552.5 1092.6 L1557.5 1092.6 L1562.5 1092.6 L1572.5 1097.6 L1577.4 1097.6 L1582.4 1097.6 L1587.4 1102.6 L1597.4 1107.6 L1602.4 1102.6 L1607.4 1102.6 L1617.3 1097.6 L1622.3 1097.6 L1627.3 1097.6 L1637.3 1097.6 L1642.3 1102.6 L1647.3 1102.6 L1657.2 1102.6 L1662.2 1107.6 L1667.2 1107.6 L1677.2 1107.6 L1682.2 1107.6 L1687.2 1107.6 L1697.1 1107.6 L1702.1 1107.6 L1707.1 1112.6 L1717.1 1112.6 L1722.1 1112.6 L1727 1112.6 L1737 1112.6 L1742 1112.6 L1747 1112.6 L1752 1112.6 L1762 1107.6 L1766.9 1107.6 L1771.9 1107.6 L1781.9 1107.6 L1786.9 1107.6 L1791.9 1107.6 L1801.8 1107.6 L1806.8 1107.6 L1811.8 1112.6 L1821.8 1107.6 L1826.8 1107.6 L1831.8 1107.6 L1841.7 1107.6 L1846.7 1107.6 L1851.7 1107.6 L1861.7 1112.6 L1866.7 1107.6 L1871.7 1102.6 L1881.6 1107.6 L1886.6 1107.6 L1891.6 1107.6 L1901.6 1107.6 L1906.6 1112.6 L1911.6 1107.6 L1916.5 1107.6 L1926.5 1102.6"/>
<path d="M236 109.9l40 -25v50zM241 633.7l40 -25v50zM246 883.1l40 -25v50zM255.9 898.1l40 -25v50zM260.9 962.9l40 -25v50zM265.9 987.8l40 -25v50zM275.9 1132.5l40 -25v50zM280.9 1017.8l40 -25v50zM285.9 987.8l40 -25v50zM295.8 997.8l40 -25v50zM300.8 1022.8l40 -25v50zM305.8 1087.6l40 -25v50zM315.8 1127.5l40 -25v50zM320.8 1107.6l40 -25v50zM325.7 1112.6l40 -25v50zM335.7 1112.6l40 -25v50zM340.7 1112.6l40 -25v50zM345.7 1127.5l40 -25v50zM355.7 1132.5l40 -25v50zM360.7 1142.5l40 -25v50zM365.6 1137.5l40 -25v50zM375.6 1142.5l40 -25v50zM380.6 1137.5l40 -25v50zM385.6 1132.5l40 -25v50zM395.6 1147.5l40 -25v50zM400.5 1162.4l40 -25v50zM405.5 1142.5l40 -25v50zM410.5 1137.5l40 -25v50zM420.5 1117.6l40 -25v50zM425.5 1087.6l40 -25v50zM430.5 1087.6l40 -25v50zM440.4 1097.6l40 -25v50zM445.4 1087.6l40 -25v50zM450.4 1087.6l40 -25v50zM460.4 1082.6l40 -25v50zM465.4 1087.6l40 -25v50zM470.4 1092.6l40 -25v50zM480.3 1102.6l40 -25v50zM485.3 1117.6l40 -25v50zM490.3 1127.5l40 -25v50zM500.3 1127.5l40 -25v50zM505.3 1127.5l40 -25v50zM510.2 1127.5l40 -25v50zM520.2 1127.5l40 -25v50zM525.2 1122.5l40 -25v50zM530.2 1112.6l40 -25v50zM540.2 1097.6l40 -25v50zM545.2 1082.6l40 -25v50zM550.1 1072.7l40 -25v50zM560.1 1072.7l40 -25v50zM565.1 1087.6l40 -25v50zM570.1 1092.6l40 -25v50zM575.1 1102.6l40 -25v50zM585 1112.6l40 -25v50zM590 1112.6l40 -25v50zM595 1102.6l40 -25v50zM605 1107.6l40 -25v50zM610 1107.6l40 -25v50zM615 1107.6l40 -25v50zM624.9 1122.5l40 -25v50zM629.9 1122.5l40 -25v50zM634.9 1117.6l40 -25v50zM644.9 1117.6l40 -25v50zM649.9 1117.6l40 -25v50zM654.9 1117.6l40 -25v50zM664.8 1127.5l40 -25v50zM669.8 1122.5l40 -25v50zM674.8 1112.6l40 -25v50zM684.8 1102.6l40 -25v50zM689.8 1107.6l40 -25v50zM694.8 1117.6l40 -25v50zM704.7 1137.5l40 -25v50zM709.7 1137.5l40 -25v50zM714.7 1137.5l40 -25v50zM724.7 1122.5l40 -25v50zM729.7 1127.5l40 -25v50zM734.6 1122.5l40 -25v50zM739.6 1117.6l40 -25v50zM749.6 1117.6l40 -25v50zM754.6 1117.6l40 -25v50zM759.6 1117.6l40 -25v50zM769.6 1117.6l40 -25v50zM774.5 1112.6l40 -25v50zM779.5 1112.6l40 -25v50zM789.5 1117.6l40 -25v50zM794.5 1122.5l40 -25v50zM799.5 1122.5l40 -25v50zM809.4 1122.5l40 -25v50zM814.4 1127.5l40 -25v50zM819.4 1122.5l40 -25v50zM829.4 1122.5l40 -25v50zM834.4 1122.5l40 -25v50zM839.4 1107.6l40 -25v50zM849.3 1107.6l40 -25v50zM854.3 1107.6l40 -25v50zM859.3 1112.6l40 -25v50zM869.3 1117.6l40 -25v50zM874.3 1122.5l40 -25v50zM879.3 1112.6l40 -25v50zM889.2 1112.6l40 -25v50zM894.2 1112.6l40 -25v50zM899.2 1112.6l40 -25v50zM904.2 1112.6l40 -25v50zM914.2 1107.6l40 -25v50zM919.2 1117.6l40 -25v50zM924.1 1117.6l40 -25v50zM934.1 1122.5l40 -25v50zM939.1 1117.6l40 -25v50zM944.1 1117.6l40 -25v50zM954.1 1112.6l40 -25v50zM959 1107.6l40 -25v50zM964 1107.6l40 -25v50zM974 1102.6l40 -25v50zM979 1097.6l40 -25v50zM984 1097.6l40 -25v50zM993.9 1092.6l40 -25v50zM998.9 1092.6l40 -25v50zM1003.9 1087.6l40 -25v50zM1013.9 1092.6l40 -25v50zM1018.9 1097.6l40 -25v50zM1023.9 1092.6l40 -25v50zM1033.8 1097.6l40 -25v50zM1038.8 1102.6l40 -25v50zM1043.8 1102.6l40 -25v50zM1053.8 1097.6l40 -25v50zM1058.8 1102.6l40 -25v50zM1063.8 1102.6l40 -25v50zM1068.7 1097.6l40 -25v50zM1078.7 1097.6l40 -25v50zM1083.7 1097.6l40 -25v50zM1088.7 1097.6l40 -25v50zM1098.7 1092.6l40 -25v50zM1103.7 1092.6l40 -25v50zM1108.6 1092.6l40 -25v50zM1118.6 1092.6l40 -25v50zM1123.6 1097.6l40 -25v50zM1128.6 1097.6l40 -25v50zM1138.6 1097.6l40 -25v50zM1143.5 1102.6l40 -25v50zM1148.5 1102.6l40 -25v50zM1158.5 1097.6l40 -25v50zM1163.5 1097.6l40 -25v50zM1168.5 1097.6l40 -25v50zM1178.5 1097.6l40 -25v50zM1183.4 1097.6l40 -25v50zM1188.4 1097.6l40 -25v50zM1198.4 1097.6l40 -25v50zM1203.4 1097.6l40 -25v50zM1208.4 1097.6l40 -25v50zM1218.3 1087.6l40 -25v50zM1223.3 1087.6l40 -25v50zM1228.3 1087.6l40 -25v50zM1233.3 1087.6l40 -25v50zM1243.3 1087.6l40 -25v50zM1248.3 1092.6l40 -25v50zM1253.3 1092.6l40 -25v50zM1263.2 1087.6l40 -25v50zM1268.2 1087.6l40 -25v50zM1273.2 1092.6l40 -25v50zM1283.2 1097.6l40 -25v50zM1288.2 1092.6l40 -25v50zM1293.1 1092.6l40 -25v50zM1303.1 1092.6l40 -25v50zM1308.1 1092.6l40 -25v50zM1313.1 1092.6l40 -25v50zM1323.1 1087.6l40 -25v50zM1328.1 1087.6l40 -25v50zM1333 1092.6l40 -25v50zM1343 1097.6l40 -25v50zM1348 1097.6l40 -25v50zM1353 1102.6l40 -25v50zM1363 1102.6l40 -25v50zM1367.9 1097.6l40 -25v50zM1372.9 1097.6l40 -25v50zM1382.9 1097.6l40 -25v50zM1387.9 1092.6l40 -25v50zM1392.9 1092.6l40 -25v50zM1397.9 1092.6l40 -25v50zM1407.8 1092.6l40 -25v50zM1412.8 1092.6l40 -25v50zM1417.8 1092.6l40 -25v50zM1427.8 1092.6l40 -25v50zM1432.8 1097.6l40 -25v50zM1437.8 1092.6l40 -25v50zM1447.7 1092.6l40 -25v50zM1452.7 1092.6l40 -25v50zM1457.7 1092.6l40 -25v50zM1467.7 1092.6l40 -25v50zM1472.7 1092.6l40 -25v50zM1477.7 1092.6l40 -25v50zM1487.6 1092.6l40 -25v50zM1492.6 1092.6l40 -25v50zM1497.6 1092.6l40 -25v50zM1507.6 1092.6l40 -25v50zM1512.6 1087.6l40 -25v50zM1517.5 1087.6l40 -25v50zM1527.5 1092.6l40 -25v50zM1532.5 1092.6l40 -25v50zM1537.5 1092.6l40 -25v50zM1547.5 1097.6l40 -25v50zM1552.4 1097.6l40 -25v50zM1557.4 1097.6l40 -25v50zM1562.4 1102.6l40 -25v50zM1572.4 1107.6l40 -25v50zM1577.4 1102.6l40 -25v50zM1582.4 1102.6l40 -25v50zM1592.3 1097.6l40 -25v50zM1597.3 1097.6l40 -25v50zM1602.3 1097.6l40 -25v50zM1612.3 1097.6l40 -25v50zM1617.3 1102.6l40 -25v50zM1622.3 1102.6l40 -25v50zM1632.2 1102.6l40 -25v50zM1637.2 1107.6l40 -25v50zM1642.2 1107.6l40 -25v50zM1652.2 1107.6l40 -25v50zM1657.2 1107.6l40 -25v50zM1662.2 1107.6l40 -25v50zM1672.1 1107.6l40 -25v50zM1677.1 1107.6l40 -25v50zM1682.1 1112.6l40 -25v50zM1692.1 1112.6l40 -25v50zM1697.1 1112.6l40 -25v50zM1702 1112.6l40 -25v50zM1712 1112.6l40 -25v50zM1717 1112.6l40 -25v50zM1722 1112.6l40 -25v50zM1727 1112.6l40 -25v50zM1737 1107.6l40 -25v50zM1741.9 1107.6l40 -25v50zM1746.9 1107.6l40 -25v50zM1756.9 1107.6l40 -25v50zM1761.9 1107.6l40 -25v50zM1766.9 1107.6l40 -25v50zM1776.8 1107.6l40 -25v50zM1781.8 1107.6l40 -25v50zM1786.8 1112.6l40 -25v50zM1796.8 1107.6l40 -25v50zM1801.8 1107.6l40 -25v50zM1806.8 1107.6l40 -25v50zM1816.7 1107.6l40 -25v50zM1821.7 1107.6l40 -25v50zM1826.7 1107.6l40 -25v50zM1836.7 1112.6l40 -25v50zM1841.7 1107.6l40 -25v50zM1846.7 1102.6l40 -25v50zM1856.6 1107.6l40 -25v50zM1861.6 1107.6l40 -25v50zM1866.6 1107.6l40 -25v50zM1876.6 1107.6l40 -25v50zM1881.6 1112.6l40 -25v50zM1886.6 1107.6l40 -25v50zM1891.5 1107.6l40 -25v50zM1901.5 1102.6l40 -25v50z"/>
</g>
<g stroke="#0ff">
<path d="M261 768.4 L266 573.8 L271 673.6 L280.9 688.5 L285.9 703.5 L290.9 688.5 L300.9 723.5 L305.9 748.4 L310.9 748.4 L320.8 748.4 L325.8 748.4 L330.8 748.4 L340.8 748.4 L345.8 753.4 L350.7 753.4 L360.7 753.4 L365.7 753.4 L370.7 753.4 L380.7 753.4 L385.7 758.4 L390.6 758.4 L400.6 758.4 L405.6 763.4 L410.6 763.4 L420.6 763.4 L425.5 763.4 L430.5 763.4 L435.5 763.4 L445.5 758.4 L450.5 763.4 L455.5 763.4 L465.4 763.4 L470.4 763.4 L475.4 763.4 L485.4 763.4 L490.4 763.4 L495.4 763.4 L505.3 763.4 L510.3 758.4 L515.3 758.4 L525.3 763.4 L530.3 763.4 L535.2 763.4 L545.2 763.4 L550.2 763.4 L555.2 763.4 L565.2 763.4 L570.2 763.4 L575.1 763.4 L585.1 763.4 L590.1 763.4 L595.1 763.4 L600.1 763.4 L610 763.4 L615 763.4 L620 763.4 L630 763.4 L635 763.4 L640 763.4 L649.9 763.4 L654.9 763.4 L659.9 763.4 L669.9 763.4 L674.9 763.4 L679.9 763.4 L689.8 763.4 L694.8 763.4 L699.8 763.4 L709.8 763.4 L714.8 763.4 L719.8 763.4 L729.7 763.4 L734.7 763.4 L739.7 763.4 L749.7 763.4 L754.7 763.4 L759.6 763.4 L764.6 763.4 L774.6 763.4 L779.6 763.4 L784.6 763.4 L794.6 763.4 L799.5 763.4 L804.5 763.4 L814.5 763.4 L819.5 763.4 L824.5 763.4 L834.4 763.4 L839.4 763.4 L844.4 763.4 L854.4 763.4 L859.4 763.4 L864.4 763.4 L874.3 763.4 L879.3 763.4 L884.3 763.4 L894.3 763.4 L899.3 763.4 L904.3 763.4 L914.2 763.4 L919.2 763.4 L924.2 763.4 L929.2 763.4 L939.2 763.4 L944.2 763.4 L949.1 763.4 L959.1 763.4 L964.1 763.4 L969.1 763.4 L979.1 763.4 L984 763.4 L989 763.4 L999 763.4 L1004 763.4 L1009 763.4 L1018.9 763.4 L1023.9 763.4 L1028.9 763.4 L1038.9 763.4 L1043.9 763.4 L1048.9 763.4 L1058.8 763.4 L1063.8 763.4 L1068.8 763.4 L1078.8 763.4 L1083.8 763.4 L1088.8 763.4 L1093.7 763.4 L1103.7 763.4 L1108.7 763.4 L1113.7 763.4 L1123.7 763.4 L1128.7 763.4 L1133.6 763.4 L1143.6 763.4 L1148.6 763.4 L1153.6 763.4 L1163.6 763.4 L1168.5 763.4 L1173.5 763.4 L1183.5 763.4 L1188.5 763.4 L1193.5 763.4 L1203.5 763.4 L1208.4 763.4 L1213.4 763.4 L1223.4 763.4 L1228.4 763.4 L1233.4 763.4 L1243.3 763.4 L1248.3 763.4 L1253.3 763.4 L1258.3 763.4 L1268.3 763.4 L1273.3 763.4 L1278.3 763.4 L1288.2 763.4 L1293.2 763.4 L1298.2 763.4 L1308.2 763.4 L1313.2 763.4 L1318.1 763.4 L1328.1 763.4 L1333.1 763.4 L1338.1 763.4 L1348.1 763.4 L1353.1 763.4 L1358 763.4 L1368 763.4 L1373 763.4 L1378 763.4 L1388 763.4 L1392.9 763.4 L1397.9 763.4 L1407.9 763.4 L1412.9 763.4 L1417.9 763.4 L1422.9 763.4 L1432.8 763.4 L1437.8 763.4 L1442.8 763.4 L1452.8 763.4 L1457.8 763.4 L1462.8 763.4 L1472.7 763.4 L1477.7 763.4 L1482.7 763.4 L1492.7 763.4 L1497.7 763.4 L1502.7 763.4 L1512.6 763.4 L1517.6 763.4 L1522.6 763.4 L1532.6 763.4 L1537.6 763.4 L1542.5 763.4 L1552.5 758.4 L1557.5 758.4 L1562.5 758.4 L1572.5 758.4 L1577.4 758.4 L1582.4 758.4 L1587.4 758.4 L1597.4 758.4 L1602.4 758.4 L1607.4 758.4 L1617.3 758.4 L1622.3 758.4 L1627.3 758.4 L1637.3 758.4 L1642.3 758.4 L1647.3 758.4 L1657.2 758.4 L1662.2 758.4 L1667.2 758.4 L1677.2 758.4 L1682.2 758.4 L1687.2 758.4 L1697.1 758.4 L1702.1 758.4 L1707.1 758.4 L1717.1 758.4 L1722.1 758.4 L1727 758.4 L1737 758.4 L1742 758.4 L1747 758.4 L1752 758.4 L1762 758.4 L1766.9 758.4 L1771.9 758.4 L1781.9 758.4 L1786.9 758.4 L1791.9 758.4 L1801.8 758.4 L1806.8 758.4 L1811.8 758.4 L1821.8 758.4 L1826.8 758.4 L1831.8 758.4 L1841.7 758.4 L1846.7 758.4 L1851.7 758.4 L1861.7 758.4 L1866.7 758.4 L1871.7 758.4 L1881.6 758.4 L1886.6 758.4 L1891.6 758.4 L1901.6 758.4 L1906.6 763.4 L1911.6 763.4 L1916.5 758.4 L1926.5 758.4"/>
<path d="M261 743.4l25 40h-50zM266 548.8l25 40h-50zM271 648.6l25 40h-50zM280.9 663.5l25 40h-50zM285.9 678.5l25 40h-50zM290.9 663.5l25 40h-50zM300.9 698.5l25 40h-50zM305.9 723.4l25 40h-50zM310.9 723.4l25 40h-50zM320.8 723.4l25 40h-50zM325.8 723.4l25 40h-50zM330.8 723.4l25 40h-50zM340.8 723.4l25 40h-50zM345.8 728.4l25 40h-50zM350.7 728.4l25 40h-50zM360.7 728.4l25 40h-50zM365.7 728.4l25 40h-50zM370.7 728.4l25 40h-50zM380.7 728.4l25 40h-50zM385.7 733.4l25 40h-50zM390.6 733.4l25 40h-50zM400.6 733.4l25 40h-50zM405.6 738.4l25 40h-50zM410.6 738.4l25 40h-50zM420.6 738.4l25 40h-50zM425.5 738.4l25 40h-50zM430.5 738.4l25 40h-50zM435.5 738.4l25 40h-50zM445.5 733.4l25 40h-50zM450.5 738.4l25 40h-50zM455.5 738.4l25 40h-50zM465.4 738.4l25 40h-50zM470.4 738.4l25 40h-50zM475.4 738.4l25 40h-50zM485.4 738.4l25 40h-50zM490.4 738.4l25 40h-50zM495.4 738.4l25 40h-50zM505.3 738.4l25 40h-50zM510.3 733.4l25 40h-50zM515.3 733.4l25 40h-50zM525.3 738.4l25 40h-50zM530.3 738.4l25 40h-50zM535.2 738.4l25 40h-50zM545.2 738.4l25 40h-50zM550.2 738.4l25 40h-50zM555.2 738.4l25 40h-50zM565.2 738.4l25 40h-50zM570.2 738.4l25 40h-50zM575.1 738.4l25 40h-50zM585.1 738.4l25 40h-50zM590.1 738.4l25 40h-50zM595.1 738.4l25 40h-50zM600.1 738.4l25 40h-50zM610 738.4l25 40h-50zM615 738.4l25 40h-50zM620 738.4l25 40h-50zM630 738.4l25 40h-50zM635 738.4l25 40h-50zM640 738.4l25 40h-50zM649.9 738.4l25 40h-50zM654.9 738.4l25 40h-50zM659.9 738.4l25 40h-50zM669.9 738.4l25 40h-50zM674.9 738.4l25 40h-50zM679.9 738.4l25 40h-50zM689.8 738.4l25 40h-50zM694.8 738.4l25 40h-50zM699.8 738.4l25 40h-50zM709.8 738.4l25 40h-50zM714.8 738.4l25 40h-50zM719.8 738.4l25 40h-50zM729.7 738.4l25 40h-50zM734.7 738.4l25 40h-50zM739.7 738.4l25 40h-50zM749.7 738.4l25 40h-50zM754.7 738.4l25 40h-50zM759.6 738.4l25 40h-50zM764.6 738.4l25 40h-50zM774.6 738.4l25 40h-50zM779.6 738.4l25 40h-50zM784.6 738.4l25 40h-50zM794.6 738.4l25 40h-50zM799.5 738.4l25 40h-50zM804.5 738.4l25 40h-50zM814.5 738.4l25 40h-50zM819.5 738.4l25 40h-50zM824.5 738.4l25 40h-50zM834.4 738.4l25 40h-50zM839.4 738.4l25 40h-50zM844.4 738.4l25 40h-50zM854.4 738.4l25 40h-50zM859.4 738.4l25 40h-50zM864.4 738.4l25 40h-50zM874.3 738.4l25 40h-50zM879.3 738.4l25 40h-50zM884.3 738.4l25 40h-50zM894.3 738.4l25 40h-50zM899.3 738.4l25 40h-50zM904.3 738.4l25 40h-50zM914.2 738.4l25 40h-50zM919.2 738.4l25 40h-50zM924.2 738.4l25 40h-50zM929.2 738.4l25 40h-50zM939.2 738.4l25 40h-50zM944.2 738.4l25 40h-50zM949.1 738.4l25 40h-50zM959.1 738.4l25 40h-50zM964.1 738.4l25 40h-50zM969.1 738.4l25 40h-50zM979.1 738.4l25 40h-50zM984 738.4l25 40h-50zM989 738.4l25 40h-50zM999 738.4l25 40h-50zM1004 738.4l25 40h-50zM1009 738.4l25 40h-50zM1018.9 738.4l25 40h-50zM1023.9 738.4l25 40h-50zM1028.9 738.4l25 40h-50zM1038.9 738.4l25 40h-50zM1043.9 738.4l25 40h-50zM1048.9 738.4l25 40h-50zM1058.8 738.4l25 40h-50zM1063.8 738.4l25 40h-50zM1068.8 738.4l25 40h-50zM1078.8 738.4l25 40h-50zM1083.8 738.4l25 40h-50zM1088.8 738.4l25 40h-50zM1093.7 738.4l25 40h-50zM1103.7 738.4l25 40h-50zM1108.7 738.4l25 40h-50zM1113.7 738.4l25 40h-50zM1123.7 738.4l25 40h-50zM1128.7 738.4l25 40h-50zM1133.6 738.4l25 40h-50zM1143.6 738.4l25 40h-50zM1148.6 738.4l25 40h-50zM1153.6 738.4l25 40h-50zM1163.6 738.4l25 40h-50zM1168.5 738.4l25 40h-50zM1173.5 738.4l25 40h-50zM1183.5 738.4l25 40h-50zM1188.5 738.4l25 40h-50zM1193.5 738.4l25 40h-50zM1203.5 738.4l25 40h-50zM1208.4 738.4l25 40h-50zM1213.4 738.4l25 40h-50zM1223.4 738.4l25 40h-50zM1228.4 738.4l25 40h-50zM1233.4 738.4l25 40h-50zM1243.3 738.4l25 40h-50zM1248.3 738.4l25 40h-50zM1253.3 738.4l25 40h-50zM1258.3 738.4l25 40h-50zM1268.3 738.4l25 40h-50zM1273.3 738.4l25 40h-50zM1278.3 738.4l25 40h-50zM1288.2 738.4l25 40h-50zM1293.2 738.4l25 40h-50zM1298.2 738.4l25 40h-50zM1308.2 738.4l25 40h-50zM1313.2 738.4l25 40h-50zM1318.1 738.4l25 40h-50zM1328.1 738.4l25 40h-50zM1333.1 738.4l25 40h-50zM1338.1 738.4l25 40h-50zM1348.1 738.4l25 40h-50zM1353.1 738.4l25 40h-50zM1358 738.4l25 40h-50zM1368 738.4l25 40h-50zM1373 738.4l25 40h-50zM1378 738.4l25 40h-50zM1388 738.4l25 40h-50zM1392.9 738.4l25 40h-50zM1397.9 738.4l25 40h-50zM1407.9 738.4l25 40h-50zM1412.9 738.4l25 40h-50zM1417.9 738.4l25 40h-50zM1422.9 738.4l25 40h-50zM1432.8 738.4l25 40h-50zM1437.8 738.4l25 40h-50zM1442.8 738.4l25 40h-50zM1452.8 738.4l25 40h-50zM1457.8 738.4l25 40h-50zM1462.8 738.4l25 40h-50zM1472.7 738.4l25 40h-50zM1477.7 738.4l25 40h-50zM1482.7 738.4l25 40h-50zM1492.7 738.4l25 40h-50zM1497.7 738.4l25 40h-50zM1502.7 738.4l25 40h-50zM1512.6 738.4l25 40h-50zM1517.6 738.4l25 40h-50zM1522.6 738.4l25 40h-50zM1532.6 738.4l25 40h-50zM1537.6 738.4l25 40h-50zM1542.5 738.4l25 40h-50zM1552.5 733.4l25 40h-50zM1557.5 733.4l25 40h-50zM1562.5 733.4l25 40h-50zM1572.5 733.4l25 40h-50zM1577.4 733.4l25 40h-50zM1582.4 733.4l25 40h-50zM1587.4 733.4l25 40h-50zM1597.4 733.4l25 40h-50zM1602.4 733.4l25 40h-50zM1607.4 733.4l25 40h-50zM1617.3 733.4l25 40h-50zM1622.3 733.4l25 40h-50zM1627.3 733.4l25 40h-50zM1637.3 733.4l25 40h-50zM1642.3 733.4l25 40h-50zM1647.3 733.4l25 40h-50zM1657.2 733.4l25 40h-50zM1662.2 733.4l25 40h-50zM1667.2 733.4l25 40h-50zM1677.2 733.4l25 40h-50zM1682.2 733.4l25 40h-50zM1687.2 733.4l25 40h-50zM1697.1 733.4l25 40h-50zM1702.1 733.4l25 40h-50zM1707.1 733.4l25 40h-50zM1717.1 733.4l25 40h-50zM1722.1 733.4l25 40h-50zM1727 733.4l25 40h-50zM1737 733.4l25 40h-50zM1742 733.4l25 40h-50zM1747 733.4l25 40h-50zM1752 733.4l25 40h-50zM1762 733.4l25 40h-50zM1766.9 733.4l25 40h-50zM1771.9 733.4l25 40h-50zM1781.9 733.4l25 40h-50zM1786.9 733.4l25 40h-50zM1791.9 733.4l25 40h-50zM1801.8 733.4l25 40h-50zM1806.8 733.4l25 40h-50zM1811.8 733.4l25 40h-50zM1821.8 733.4l25 40h-50zM1826.8 733.4l25 40h-50zM1831.8 733.4l25 40h-50zM1841.7 733.4l25 40h-50zM1846.7 733.4l25 40h-50zM1851.7 733.4l25 40h-50zM1861.7 733.4l25 40h-50zM1866.7 733.4l25 40h-50zM1871.7 733.4l25 40h-50zM1881.6 733.4l25 40h-50zM1886.6 733.4l25 40h-50zM1891.6 733.4l25 40h-50zM1901.6 733.4l25 40h-50zM1906.6 738.4l25 40h-50zM1911.6 738.4l25 40h-50zM1916.5 733.4l25 40h-50zM1926.5 733.4l25 40h-50z"/>
</g>
</g>
<rect x="1841.6" y="89.9" width="358.9" height="638.5" fill="#fff" stroke="#000" stroke-width="5"/>
<g fill="none" stroke-width="5" stroke-linecap="round" stroke-linejoin="round">
<path stroke="#f00" d="M1882 159.7H2080.4"/>
<path stroke="#0f0" d="M1882 284.4H2080.4"/>
<path stroke="#00f" d="M1882 409.1H2080.4"/>
<path stroke="#f0f" d="M1882 528.9H2080.4"/>
<path stroke="#0ff" d="M1882 653.6H2080.4"/>
<path stroke="#f00" d="M1981 139.7v40M1971 149.7l20 20M1971 169.7l20 -20"/>
<circle stroke="#0f0" cx="1981" cy="284.4" r="20"/>
<circle fill="#00f" stroke="none" cx="1983.6" cy="411.6" r="12.3"/>
<path stroke="#f0f" d="M1956 528.9l40 -25v50z"/>
<path stroke="#0ff" d="M1981 629.6l25 39h-50z"/>
</g>
<text class="leg" x="2106" y="179.7">δ<tspan class="sub" dx="2" dy="33">ψ</tspan></text>
<text class="leg" x="2106" y="304.4">δ<tspan class="sub" dx="2" dy="33">ϕ</tspan></text>
<text class="leg" x="2106" y="429.1">δ<tspan class="sub" dx="2" dy="33">θ</tspan></text>
<text class="leg" x="2106" y="548.9">δ<tspan class="sub" dx="2" dy="33">α</tspan></text>
<text class="leg" x="2106" y="673.6">δ<tspan class="sub" dx="2" dy="33">β</tspan></text>
</svg>
</body>
</html>
